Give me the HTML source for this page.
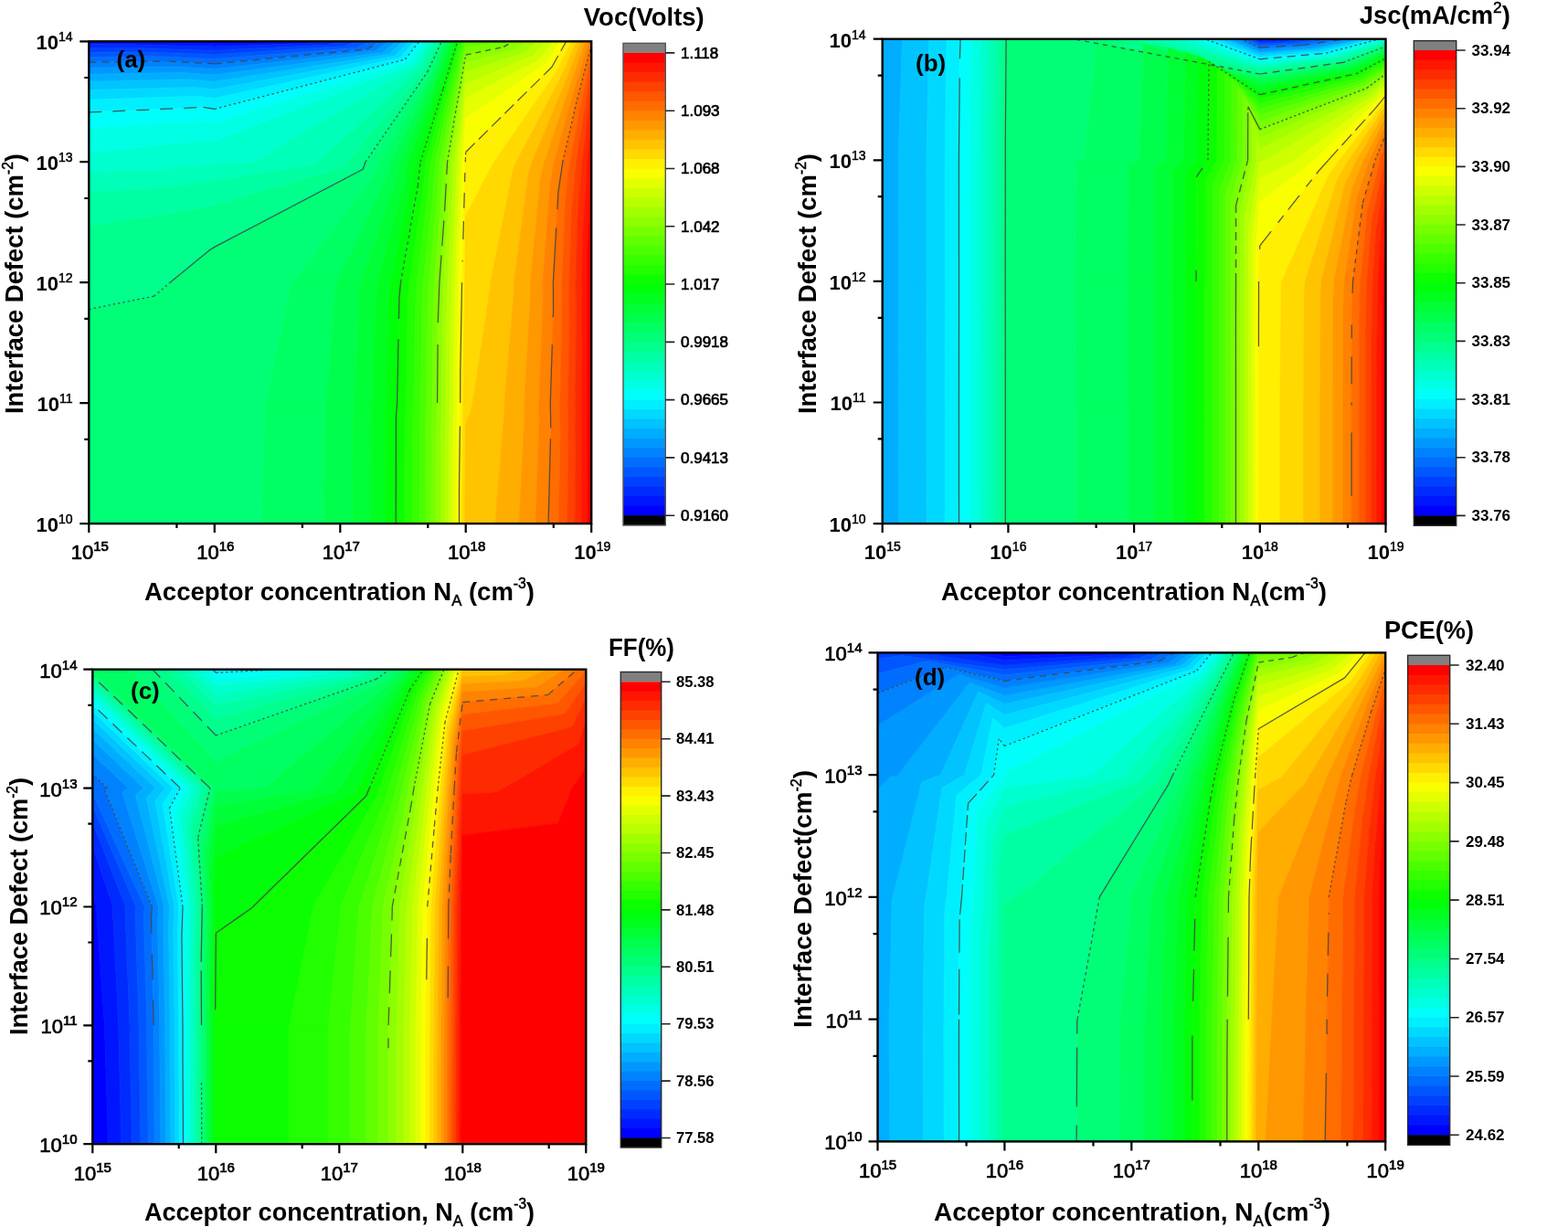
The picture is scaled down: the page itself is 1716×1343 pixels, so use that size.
<!DOCTYPE html>
<html lang="en"><head><meta charset="utf-8"><title>Contour plots</title>
<style>html,body{margin:0;padding:0;background:#fff}body{width:1716px;height:1343px;overflow:hidden}svg{display:block}text{font-family:'Liberation Sans', Arial, Helvetica, sans-serif;fill:#000}.b{font-weight:bold}.s{stroke:#000;stroke-width:0.7px}.n{font-weight:normal;stroke:#000;stroke-width:0.5px}.fb{stroke:#000;stroke-width:1.15px;stroke-linejoin:miter}</style>
</head><body>
<svg width="1716" height="1343" viewBox="0 0 1716 1343">
<rect width="1716" height="1343" fill="#fff"/>
<g>
<g stroke-width="0.7" stroke-linejoin="round">
<path fill="#00ff77" stroke="#00ff77" d="M97.3,573.1L234.8,573.1L97.3,441.1ZM234.8,573.1L234.8,441.1L97.3,441.1ZM234.8,573.1L286.3,573.1L290,441.9L234.8,441.1ZM290.7,441.1L234.8,441.1L290,441.9ZM97.3,441.1L234.8,441.1L168.5,324.2L97.3,338.5ZM234.8,441.1L234.8,309.2L186.1,309.2L168.5,324.2ZM234.8,441.1L290.7,441.1L319.1,310.8L234.8,309.2ZM320.3,309.2L234.8,309.2L319.1,310.8ZM186.1,309.2L234.8,309.2L229.4,273.8ZM234.8,309.2L234.8,270.4L229.4,273.8ZM234.8,309.2L320.3,309.2L412.3,187.8L397.2,185.2L234.8,270.4ZM415.3,177.2L400,177.2L397.2,185.2L412.3,187.8ZM400,177.2L415.3,177.2L471.1,81.3L467.8,78.7ZM486.6,45.3L483.4,45.3L467.8,78.7L471.1,81.3Z"/>
<path fill="#00ff62" stroke="#00ff62" d="M286.3,573.1L354.6,573.1L355.8,444.7L290,441.9ZM356.8,441.1L290.7,441.1L290,441.9L355.8,444.7ZM290.7,441.1L356.8,441.1L367.2,313.6L319.1,310.8ZM368.7,309.2L320.3,309.2L319.1,310.8L367.2,313.6ZM320.3,309.2L368.7,309.2L424.4,190.7L412.3,187.8ZM427.4,177.2L415.3,177.2L412.3,187.8L424.4,190.7ZM415.3,177.2L427.4,177.2L474.2,84.1L471.1,81.3ZM489.7,45.3L486.6,45.3L471.1,81.3L474.2,84.1Z"/>
<path fill="#00ff4c" stroke="#00ff4c" d="M354.6,573.1L385.7,573.1L386.3,447.6L355.8,444.7ZM387.4,441.1L356.8,441.1L355.8,444.7L386.3,447.6ZM356.8,441.1L387.4,441.1L393.5,316.6L367.2,313.6ZM395,309.2L368.7,309.2L367.2,313.6L393.5,316.6ZM368.7,309.2L395,309.2L434.5,193.6L424.4,190.7ZM437.4,177.2L427.4,177.2L424.4,190.7L434.5,193.6ZM427.4,177.2L437.4,177.2L477.1,87L474.2,84.1ZM492.6,45.3L489.7,45.3L474.2,84.1L477.1,87Z"/>
<path fill="#00ff36" stroke="#00ff36" d="M385.7,573.1L406,573.1L406.4,450.6L386.3,447.6ZM407.5,441.1L387.4,441.1L386.3,447.6L406.4,450.6ZM387.4,441.1L407.5,441.1L411.7,319.7L393.5,316.6ZM413.3,309.2L395,309.2L393.5,316.6L411.7,319.7ZM395,309.2L413.3,309.2L443.1,196.8L434.5,193.6ZM446,177.2L437.4,177.2L434.5,193.6L443.1,196.8ZM437.4,177.2L446,177.2L479.9,90.1L477.1,87ZM495.5,45.3L492.6,45.3L477.1,87L479.9,90.1Z"/>
<path fill="#00ff21" stroke="#00ff21" d="M406,573.1L421.1,573.1L421.4,453.8L406.4,450.6ZM422.6,441.1L407.5,441.1L406.4,450.6L421.4,453.8ZM407.5,441.1L422.6,441.1L425.6,322.9L411.7,319.7ZM427.2,309.2L413.3,309.2L411.7,319.7L425.6,322.9ZM413.3,309.2L427.2,309.2L450.6,200.1L443.1,196.8ZM453.6,177.2L446,177.2L443.1,196.8L450.6,200.1ZM446,177.2L453.6,177.2L482.6,93.4L479.9,90.1ZM498.1,45.3L495.5,45.3L479.9,90.1L482.6,93.4Z"/>
<path fill="#00ff0b" stroke="#00ff0b" d="M421.1,573.1L433.2,573.1L433.4,457.2L421.4,453.8ZM434.6,441.1L422.6,441.1L421.4,453.8L433.4,457.2ZM422.6,441.1L434.6,441.1L436.9,326.4L425.6,322.9ZM438.5,309.2L427.2,309.2L425.6,322.9L436.9,326.4ZM427.2,309.2L438.5,309.2L457.2,203.6L450.6,200.1ZM460.2,177.2L453.6,177.2L450.6,200.1L457.2,203.6ZM453.6,177.2L460.2,177.2L485.1,96.8L482.6,93.4ZM500.7,45.3L498.1,45.3L482.6,93.4L485.1,96.8Z"/>
<path fill="#0bff00" stroke="#0bff00" d="M433.2,573.1L443.2,573.1L443.4,460.8L433.4,457.2ZM444.6,441.1L434.6,441.1L433.4,457.2L443.4,460.8ZM434.6,441.1L444.6,441.1L446.4,330.1L436.9,326.4ZM448,309.2L438.5,309.2L436.9,326.4L446.4,330.1ZM438.5,309.2L448,309.2L463.2,207.3L457.2,203.6ZM466.3,177.2L460.2,177.2L457.2,203.6L463.2,207.3ZM460.2,177.2L466.3,177.2L487.6,100.5L485.1,96.8ZM503.1,45.3L500.7,45.3L485.1,96.8L487.6,100.5Z"/>
<path fill="#21ff00" stroke="#21ff00" d="M443.2,573.1L451.8,573.1L451.9,464.6L443.4,460.8ZM453.1,441.1L444.6,441.1L443.4,460.8L451.9,464.6ZM444.6,441.1L453.1,441.1L454.6,334.1L446.4,330.1ZM456.2,309.2L448,309.2L446.4,330.1L454.6,334.1ZM448,309.2L456.2,309.2L468.7,211.3L463.2,207.3ZM471.7,177.2L466.3,177.2L463.2,207.3L468.7,211.3ZM466.3,177.2L471.7,177.2L489.9,104.4L487.6,100.5ZM505.5,45.3L503.1,45.3L487.6,100.5L489.9,104.4Z"/>
<path fill="#36ff00" stroke="#36ff00" d="M451.8,573.1L459.3,573.1L459.4,468.8L451.9,464.6ZM460.6,441.1L453.1,441.1L451.9,464.6L459.4,468.8ZM453.1,441.1L460.6,441.1L461.8,338.3L454.6,334.1ZM463.4,309.2L456.2,309.2L454.6,334.1L461.8,338.3ZM456.2,309.2L463.4,309.2L473.7,215.6L468.7,211.3ZM476.7,177.2L471.7,177.2L468.7,211.3L473.7,215.6ZM471.7,177.2L476.7,177.2L492.2,108.6L489.9,104.4ZM507.8,45.3L505.5,45.3L489.9,104.4L492.2,108.6Z"/>
<path fill="#4cff00" stroke="#4cff00" d="M459.3,573.1L466,573.1L466.1,473.2L459.4,468.8ZM467.2,441.1L460.6,441.1L459.4,468.8L466.1,473.2ZM460.6,441.1L467.2,441.1L468.2,342.9L461.8,338.3ZM469.8,309.2L463.4,309.2L461.8,338.3L468.2,342.9ZM463.4,309.2L469.8,309.2L478.3,220.3L473.7,215.6ZM481.3,177.2L476.7,177.2L473.7,215.6L478.3,220.3ZM476.7,177.2L481.3,177.2L494.4,113.1L492.2,108.6ZM509.7,46L509.7,45.3L507.8,45.3L492.2,108.6L494.4,113.1ZM512.8,45.6L509.7,45.3L509.7,46ZM513.9,45.3L509.7,45.3L512.8,45.6Z"/>
<path fill="#62ff00" stroke="#62ff00" d="M466,573.1L471.9,573.1L472,478L466.1,473.2ZM473.2,441.1L467.2,441.1L466.1,473.2L472,478ZM467.2,441.1L473.2,441.1L474,347.9L468.2,342.9ZM475.6,309.2L469.8,309.2L468.2,342.9L474,347.9ZM469.8,309.2L475.6,309.2L482.6,225.3L478.3,220.3ZM485.6,177.2L481.3,177.2L478.3,220.3L482.6,225.3ZM481.3,177.2L485.6,177.2L496.5,118L494.4,113.1ZM509.7,52.6L509.7,46L494.4,113.1L496.5,118ZM535,48.4L512.8,45.6L509.7,46L509.7,52.6ZM542.3,45.3L513.9,45.3L512.8,45.6L535,48.4Z"/>
<path fill="#77ff00" stroke="#77ff00" d="M471.9,573.1L477.4,573.1L477.5,483.3L472,478ZM478.6,441.1L473.2,441.1L472,478L477.5,483.3ZM473.2,441.1L478.6,441.1L479.3,353.3L474,347.9ZM480.9,309.2L475.6,309.2L474,347.9L479.3,353.3ZM475.6,309.2L480.9,309.2L486.6,230.9L482.6,225.3ZM489.6,177.2L485.6,177.2L482.6,225.3L486.6,230.9ZM485.6,177.2L489.6,177.2L498.5,123.4L496.5,118ZM509.7,60.2L509.7,52.6L496.5,118L498.5,123.4ZM551.2,51.4L535,48.4L509.7,52.6L509.7,60.2ZM561.5,45.3L542.3,45.3L535,48.4L551.2,51.4Z"/>
<path fill="#8dff00" stroke="#8dff00" d="M477.4,573.1L482.4,573.1L482.4,489.1L477.5,483.3ZM483.6,441.1L478.6,441.1L477.5,483.3L482.4,489.1ZM478.6,441.1L483.6,441.1L484.1,359.4L479.3,353.3ZM485.8,309.2L480.9,309.2L479.3,353.3L484.1,359.4ZM480.9,309.2L485.8,309.2L490.3,237L486.6,230.9ZM493.3,177.2L489.6,177.2L486.6,230.9L490.3,237ZM489.6,177.2L493.3,177.2L500.5,129.3L498.5,123.4ZM509.7,68.9L509.7,60.2L498.5,123.4L500.5,129.3ZM563.9,54.5L551.2,51.4L509.7,60.2L509.7,68.9ZM576.1,45.3L561.5,45.3L551.2,51.4L563.9,54.5Z"/>
<path fill="#a3ff00" stroke="#a3ff00" d="M482.4,573.1L487,573.1L487,495.5L482.4,489.1ZM488.2,441.1L483.6,441.1L482.4,489.1L487,495.5ZM483.6,441.1L488.2,441.1L488.6,366.1L484.1,359.4ZM490.3,309.2L485.8,309.2L484.1,359.4L488.6,366.1ZM485.8,309.2L490.3,309.2L493.8,243.9L490.3,237ZM496.9,177.2L493.3,177.2L490.3,237L493.8,243.9ZM493.3,177.2L496.9,177.2L502.4,136L500.5,129.3ZM509.7,79.1L509.7,68.9L500.5,129.3L502.4,136ZM574.4,57.7L563.9,54.5L509.7,68.9L509.7,79.1ZM587.7,45.3L576.1,45.3L563.9,54.5L574.4,57.7Z"/>
<path fill="#b8ff00" stroke="#b8ff00" d="M487,573.1L491.3,573.1L491.3,502.7L487,495.5ZM492.5,441.1L488.2,441.1L487,495.5L491.3,502.7ZM488.2,441.1L492.5,441.1L492.8,373.7L488.6,366.1ZM494.4,309.2L490.3,309.2L488.6,366.1L492.8,373.7ZM490.3,309.2L494.4,309.2L497.2,251.8L493.8,243.9ZM500.2,177.2L496.9,177.2L493.8,243.9L497.2,251.8ZM496.9,177.2L500.2,177.2L504.2,143.4L502.4,136ZM509.7,91.6L509.7,79.1L502.4,136L504.2,143.4ZM583.3,61.2L574.4,57.7L509.7,79.1L509.7,91.6ZM597.5,45.3L587.7,45.3L574.4,57.7L583.3,61.2Z"/>
<path fill="#ceff00" stroke="#ceff00" d="M491.3,573.1L495.3,573.1L495.3,511.1L491.3,502.7ZM496.5,441.1L492.5,441.1L491.3,502.7L495.3,511.1ZM492.5,441.1L496.5,441.1L496.7,382.5L492.8,373.7ZM498.3,309.2L494.4,309.2L492.8,373.7L496.7,382.5ZM494.4,309.2L498.3,309.2L500.3,260.8L497.2,251.8ZM503.4,177.2L500.2,177.2L497.2,251.8L500.3,260.8ZM500.2,177.2L503.4,177.2L506,152.1L504.2,143.4ZM509.7,107.5L509.7,91.6L504.2,143.4L506,152.1ZM591,64.9L583.3,61.2L509.7,91.6L509.7,107.5ZM605.8,45.3L597.5,45.3L583.3,61.2L591,64.9Z"/>
<path fill="#e4ff00" stroke="#e4ff00" d="M495.3,573.1L499,573.1L499,520.8L495.3,511.1ZM500.2,441.1L496.5,441.1L495.3,511.1L499,520.8ZM496.5,441.1L500.2,441.1L500.4,393L496.7,382.5ZM502,309.2L498.3,309.2L496.7,382.5L500.4,393ZM498.3,309.2L502,309.2L503.3,271.6L500.3,260.8ZM506.3,177.2L503.4,177.2L500.3,260.8L503.3,271.6ZM503.4,177.2L506.3,177.2L507.7,162.2L506,152.1ZM509.7,129.8L509.7,107.5L506,152.1L507.7,162.2ZM597.9,68.9L591,64.9L509.7,107.5L509.7,129.8ZM613.2,45.3L605.8,45.3L591,64.9L597.9,68.9Z"/>
<path fill="#faff00" stroke="#faff00" d="M499,573.1L502.5,573.1L502.5,532.5L499,520.8ZM503.7,441.1L500.2,441.1L499,520.8L502.5,532.5ZM500.2,441.1L503.7,441.1L503.8,405.7L500.4,393ZM505.5,309.2L502,309.2L500.4,393L503.8,405.7ZM502,309.2L505.5,309.2L506.2,284.9L503.3,271.6ZM509.2,177.2L506.3,177.2L503.3,271.6L506.2,284.9ZM506.3,177.2L509.2,177.2L509.4,174.6L507.7,162.2ZM509.7,166.5L509.7,129.8L507.7,162.2L509.4,174.6ZM604,73.2L597.9,68.9L509.7,129.8L509.7,166.5ZM619.7,45.3L613.2,45.3L597.9,68.9L604,73.2Z"/>
<path fill="#ffef00" stroke="#ffef00" d="M502.5,573.1L505.8,573.1L505.9,547.2L502.5,532.5ZM507,441.1L503.7,441.1L502.5,532.5L505.9,547.2ZM503.7,441.1L507,441.1L507.1,422.2L503.8,405.7ZM508.7,309.2L505.5,309.2L503.8,405.7L507.1,422.2ZM505.5,309.2L508.7,309.2L508.9,302.3L506.2,284.9ZM509.7,236.6L509.7,177.2L509.2,177.2L506.2,284.9L508.9,302.3ZM538.5,180.9L509.7,177.2L509.7,236.6ZM540.9,177.2L509.7,177.2L538.5,180.9ZM509.2,177.2L509.7,177.2L509.4,174.6ZM509.7,177.2L509.7,166.5L509.4,174.6ZM509.7,177.2L540.9,177.2L609.6,77.8L604,73.2L509.7,166.5ZM625.6,45.3L619.7,45.3L604,73.2L609.6,77.8Z"/>
<path fill="#ffd900" stroke="#ffd900" d="M505.8,573.1L509,573.1L509,567.1L505.9,547.2ZM509.7,465.5L509.7,441.1L507,441.1L505.9,547.2L509,567.1ZM517.3,441.9L509.7,441.1L509.7,465.5ZM517.3,441.1L509.7,441.1L517.3,441.9ZM507,441.1L509.7,441.1L507.1,422.2ZM509.7,441.1L509.7,309.2L508.7,309.2L507.1,422.2ZM509.7,441.1L517.3,441.1L537,312.6L509.7,309.2ZM536.9,309.2L509.7,309.2L537,312.6ZM508.7,309.2L509.7,309.2L508.9,302.3ZM509.7,309.2L509.7,236.6L508.9,302.3ZM509.7,309.2L536.9,309.2L561.6,185.8L538.5,180.9L509.7,236.6ZM565.1,177.2L540.9,177.2L538.5,180.9L561.6,185.8ZM540.9,177.2L565.1,177.2L614.7,82.8L609.6,77.8ZM631,45.3L625.6,45.3L609.6,77.8L614.7,82.8Z"/>
<path fill="#ffc300" stroke="#ffc300" d="M509,573.1L509.7,573.1L509,567.1ZM509.7,573.1L509.7,465.5L509,567.1ZM509.7,573.1L542,573.1L552.3,447.5L517.3,441.9L509.7,465.5ZM552,441.1L517.3,441.1L517.3,441.9L552.3,447.5ZM517.3,441.1L552,441.1L562.7,318L537,312.6ZM562.5,309.2L536.9,309.2L537,312.6L562.7,318ZM536.9,309.2L562.5,309.2L578.2,191.1L561.6,185.8ZM582.3,177.2L565.1,177.2L561.6,185.8L578.2,191.1ZM565.1,177.2L582.3,177.2L619.4,88.3L614.7,82.8ZM635.9,45.3L631,45.3L614.7,82.8L619.4,88.3Z"/>
<path fill="#ffae00" stroke="#ffae00" d="M542,573.1L568.1,573.1L574.2,453.6L552.3,447.5ZM573.8,441.1L552,441.1L552.3,447.5L574.2,453.6ZM552,441.1L573.8,441.1L580.6,324L562.7,318ZM580.4,309.2L562.5,309.2L562.7,318L580.6,324ZM562.5,309.2L580.4,309.2L591.2,197L578.2,191.1ZM595.7,177.2L582.3,177.2L578.2,191.1L591.2,197ZM582.3,177.2L595.7,177.2L623.7,94.4L619.4,88.3ZM640.5,45.3L635.9,45.3L619.4,88.3L623.7,94.4Z"/>
<path fill="#ff9800" stroke="#ff9800" d="M568.1,573.1L586.2,573.1L590.2,460.4L574.2,453.6ZM589.8,441.1L573.8,441.1L574.2,453.6L590.2,460.4ZM573.8,441.1L589.8,441.1L594.4,330.7L580.6,324ZM594.2,309.2L580.4,309.2L580.6,324L594.4,330.7ZM580.4,309.2L594.2,309.2L601.9,203.6L591.2,197ZM606.6,177.2L595.7,177.2L591.2,197L601.9,203.6ZM595.7,177.2L606.6,177.2L627.8,101.1L623.7,94.4ZM644.7,45.3L640.5,45.3L623.7,94.4L627.8,101.1Z"/>
<path fill="#ff8200" stroke="#ff8200" d="M586.2,573.1L600.1,573.1L602.8,468.2L590.2,460.4ZM602.3,441.1L589.8,441.1L590.2,460.4L602.8,468.2ZM589.8,441.1L602.3,441.1L605.6,338.3L594.4,330.7ZM605.4,309.2L594.2,309.2L594.4,330.7L605.6,338.3ZM594.2,309.2L605.4,309.2L610.9,211L601.9,203.6ZM615.8,177.2L606.6,177.2L601.9,203.6L610.9,211ZM606.6,177.2L615.8,177.2L631.6,108.9L627.8,101.1ZM647.2,49.1L647.2,45.3L644.7,45.3L627.8,101.1L631.6,108.9Z"/>
<path fill="#ff6d00" stroke="#ff6d00" d="M600.1,573.1L611.4,573.1L613.2,477.1L602.8,468.2ZM612.7,441.1L602.3,441.1L602.8,468.2L613.2,477.1ZM602.3,441.1L612.7,441.1L615,347L605.6,338.3ZM614.8,309.2L605.4,309.2L605.6,338.3L615,347ZM605.4,309.2L614.8,309.2L618.8,219.5L610.9,211ZM623.8,177.2L615.8,177.2L610.9,211L618.8,219.5ZM615.8,177.2L623.8,177.2L635.2,117.8L631.6,108.9ZM647.2,60.8L647.2,49.1L631.6,108.9L635.2,117.8Z"/>
<path fill="#ff5700" stroke="#ff5700" d="M611.4,573.1L620.8,573.1L622.1,487.8L613.2,477.1ZM621.5,441.1L612.7,441.1L613.2,477.1L622.1,487.8ZM612.7,441.1L621.5,441.1L623.1,357.3L615,347ZM622.9,309.2L614.8,309.2L615,347L623.1,357.3ZM614.8,309.2L622.9,309.2L625.7,229.4L618.8,219.5ZM630.8,177.2L623.8,177.2L618.8,219.5L625.7,229.4ZM623.8,177.2L630.8,177.2L638.5,128.3L635.2,117.8ZM647.2,75.5L647.2,60.8L635.2,117.8L638.5,128.3Z"/>
<path fill="#ff4100" stroke="#ff4100" d="M620.8,573.1L629,573.1L629.8,500.9L622.1,487.8ZM629.2,441.1L621.5,441.1L622.1,487.8L629.8,500.9ZM621.5,441.1L629.2,441.1L630.3,369.9L623.1,357.3ZM630,309.2L622.9,309.2L623.1,357.3L630.3,369.9ZM622.9,309.2L630,309.2L631.9,241.5L625.7,229.4ZM637.1,177.2L630.8,177.2L625.7,229.4L631.9,241.5ZM630.8,177.2L637.1,177.2L641.7,141.3L638.5,128.3ZM647.2,95.3L647.2,75.5L638.5,128.3L641.7,141.3Z"/>
<path fill="#ff2b00" stroke="#ff2b00" d="M629,573.1L636.2,573.1L636.6,517.9L629.8,500.9ZM636.1,441.1L629.2,441.1L629.8,500.9L636.6,517.9ZM629.2,441.1L636.1,441.1L636.7,386L630.3,369.9ZM636.4,309.2L630,309.2L630.3,369.9L636.7,386ZM630,309.2L636.4,309.2L637.6,256.9L631.9,241.5ZM642.8,177.2L637.1,177.2L631.9,241.5L637.6,256.9ZM637.1,177.2L642.8,177.2L644.8,158L641.7,141.3ZM647.2,125.9L647.2,95.3L641.7,141.3L644.8,158Z"/>
<path fill="#ff1600" stroke="#ff1600" d="M636.2,573.1L642.6,573.1L642.8,542.2L636.6,517.9ZM642.2,441.1L636.1,441.1L636.6,517.9L642.8,542.2ZM636.1,441.1L642.2,441.1L642.4,408.6L636.7,386ZM642.2,309.2L636.4,309.2L636.7,386L642.4,408.6ZM636.4,309.2L642.2,309.2L642.7,277.9L637.6,256.9ZM647.2,185.2L647.2,177.2L642.8,177.2L637.6,256.9L642.7,277.9ZM642.8,177.2L647.2,177.2L644.8,158ZM647.2,177.2L647.2,125.9L644.8,158Z"/>
<path fill="#ff0000" stroke="#ff0000" d="M642.6,573.1L647.2,573.1L642.8,542.2ZM647.2,573.1L647.2,441.1L642.2,441.1L642.8,542.2ZM642.2,441.1L647.2,441.1L642.4,408.6ZM647.2,441.1L647.2,309.2L642.2,309.2L642.4,408.6ZM642.2,309.2L647.2,309.2L642.7,277.9ZM647.2,309.2L647.2,185.2L642.7,277.9Z"/>
<path fill="#00ff8d" stroke="#00ff8d" d="M168.5,324.2L97.3,309.2L97.3,338.5ZM186.1,309.2L97.3,309.2L168.5,324.2ZM97.3,309.2L186.1,309.2L229.4,273.8L213,229L97.3,246.8ZM234.8,270.4L234.8,223.6L213,229L229.4,273.8ZM397.2,185.2L376.8,182.6L234.8,223.6L234.8,270.4ZM400,177.2L379.6,177.2L376.8,182.6L397.2,185.2ZM379.6,177.2L400,177.2L467.8,78.7L464.4,76.2ZM483.4,45.3L479.9,45.3L464.4,76.2L467.8,78.7Z"/>
<path fill="#00ffce" stroke="#00ffce" d="M153.4,187L97.3,177.2L97.3,188.9ZM234.8,180.6L234.8,177.2L97.3,177.2L153.4,187ZM276.4,177.8L234.8,177.2L234.8,180.6ZM278,177.2L234.8,177.2L276.4,177.8ZM97.3,177.2L234.8,177.2L231.6,153.5L97.3,166.8ZM234.8,177.2L234.8,154.6L231.6,153.5ZM234.8,177.2L278,177.2L456.9,71.4L452.7,69.2L234.8,154.6ZM472.3,45.3L468.2,45.3L452.7,69.2L456.9,71.4Z"/>
<path fill="#00ffb8" stroke="#00ffb8" d="M190.4,204.2L153.4,187L97.3,188.9L97.3,210.8ZM234.8,198.2L234.8,180.6L153.4,187L190.4,204.2ZM345.6,180.1L276.4,177.8L234.8,180.6L234.8,198.2ZM348.2,177.2L278,177.2L276.4,177.8L345.6,180.1ZM278,177.2L348.2,177.2L460.8,73.7L456.9,71.4ZM476.2,45.3L472.3,45.3L456.9,71.4L460.8,73.7Z"/>
<path fill="#00ffa3" stroke="#00ffa3" d="M213,229L190.4,204.2L97.3,210.8L97.3,246.8ZM234.8,223.6L234.8,198.2L190.4,204.2L213,229ZM376.8,182.6L345.6,180.1L234.8,198.2L234.8,223.6ZM379.6,177.2L348.2,177.2L345.6,180.1L376.8,182.6ZM348.2,177.2L379.6,177.2L464.4,76.2L460.8,73.7ZM479.9,45.3L476.2,45.3L460.8,73.7L464.4,76.2Z"/>
<path fill="#0016ff" stroke="#0016ff" d="M121.5,48.2L97.3,45.3L97.3,48.3ZM234.8,51.1L234.8,47.2L178.3,45.3L97.3,45.3L121.5,48.2ZM333.7,47.6L288.7,46.1L234.8,47.2L234.8,51.1ZM346.8,45.3L298.6,45.3L288.7,46.1L333.7,47.6Z"/>
<path fill="#002bff" stroke="#002bff" d="M143.4,52.4L121.5,48.2L97.3,48.3L97.3,52.7ZM234.8,55.2L234.8,51.1L121.5,48.2L143.4,52.4ZM359,49.1L333.7,47.6L234.8,51.1L234.8,55.2ZM373,45.3L346.8,45.3L333.7,47.6L359,49.1Z"/>
<path fill="#0041ff" stroke="#0041ff" d="M159.4,56.9L143.4,52.4L97.3,52.7L97.3,57.4ZM234.8,59.7L234.8,55.2L143.4,52.4L159.4,56.9ZM376.8,50.6L359,49.1L234.8,55.2L234.8,59.7ZM391.2,45.3L373,45.3L359,49.1L376.8,50.6Z"/>
<path fill="#0057ff" stroke="#0057ff" d="M172,61.8L159.4,56.9L97.3,57.4L97.3,62.5ZM234.8,64.5L234.8,59.7L159.4,56.9L172,61.8ZM390.4,52.2L376.8,50.6L234.8,59.7L234.8,64.5ZM405.2,45.3L391.2,45.3L376.8,50.6L390.4,52.2Z"/>
<path fill="#006dff" stroke="#006dff" d="M182.4,67.1L172,61.8L97.3,62.5L97.3,68.1ZM234.8,69.8L234.8,64.5L172,61.8L182.4,67.1ZM401.5,53.9L390.4,52.2L234.8,64.5L234.8,69.8ZM416.5,45.3L405.2,45.3L390.4,52.2L401.5,53.9Z"/>
<path fill="#0082ff" stroke="#0082ff" d="M191.3,73L182.4,67.1L97.3,68.1L97.3,74.3ZM234.8,75.6L234.8,69.8L182.4,67.1L191.3,73ZM410.9,55.6L401.5,53.9L234.8,69.8L234.8,75.6ZM425.9,45.3L416.5,45.3L401.5,53.9L410.9,55.6Z"/>
<path fill="#0098ff" stroke="#0098ff" d="M199,79.5L191.3,73L97.3,74.3L97.3,81.2ZM234.8,82.1L234.8,75.6L191.3,73L199,79.5ZM419,57.4L410.9,55.6L234.8,75.6L234.8,82.1ZM434.1,45.3L425.9,45.3L410.9,55.6L419,57.4Z"/>
<path fill="#00aeff" stroke="#00aeff" d="M205.8,86.9L199,79.5L97.3,81.2L97.3,89.2ZM234.8,89.4L234.8,82.1L199,79.5L205.8,86.9ZM426.1,59.2L419,57.4L234.8,82.1L234.8,89.4ZM441.3,45.3L434.1,45.3L419,57.4L426.1,59.2Z"/>
<path fill="#00c3ff" stroke="#00c3ff" d="M212,95.4L205.8,86.9L97.3,89.2L97.3,98.4ZM234.8,97.8L234.8,89.4L205.8,86.9L212,95.4ZM432.5,61L426.1,59.2L234.8,89.4L234.8,97.8ZM447.7,45.3L441.3,45.3L426.1,59.2L432.5,61Z"/>
<path fill="#00d9ff" stroke="#00d9ff" d="M217.5,105.3L212,95.4L97.3,98.4L97.3,109.3ZM234.8,107.6L234.8,97.8L212,95.4L217.5,105.3ZM438.2,63L432.5,61L234.8,97.8L234.8,107.6ZM453.5,45.3L447.7,45.3L432.5,61L438.2,63Z"/>
<path fill="#00efff" stroke="#00efff" d="M222.6,117.4L217.5,105.3L97.3,109.3L97.3,122.9ZM234.8,119.4L234.8,107.6L217.5,105.3L222.6,117.4ZM443.5,65L438.2,63L234.8,107.6L234.8,119.4ZM458.8,45.3L453.5,45.3L438.2,63L443.5,65Z"/>
<path fill="#00fffa" stroke="#00fffa" d="M227.3,132.6L222.6,117.4L97.3,122.9L97.3,140.8ZM234.8,134.4L234.8,119.4L222.6,117.4L227.3,132.6ZM448.3,67L443.5,65L234.8,119.4L234.8,134.4ZM463.7,45.3L458.8,45.3L443.5,65L448.3,67Z"/>
<path fill="#00ffe4" stroke="#00ffe4" d="M231.6,153.5L227.3,132.6L97.3,140.8L97.3,166.8ZM234.8,154.6L234.8,134.4L227.3,132.6L231.6,153.5ZM452.7,69.2L448.3,67L234.8,134.4L234.8,154.6ZM468.2,45.3L463.7,45.3L448.3,67L452.7,69.2Z"/>
<path fill="#0000ff" stroke="#0000ff" d="M234.8,47.2L234.8,45.3L178.3,45.3ZM288.7,46.1L234.8,45.3L234.8,47.2ZM298.6,45.3L234.8,45.3L288.7,46.1Z"/>
</g>
<g stroke="#454545" stroke-width="1.25" fill="none" stroke-opacity="0.9">
<path d="M97.3,68.1L182.4,67.1M234.8,69.8L182.4,67.1M234.8,69.8L401.5,53.9M401.5,53.9L416.5,45.3" stroke-dasharray="8 6"/>
<path d="M97.3,122.9L222.6,117.4M234.8,119.4L222.6,117.4" stroke-dasharray="14 12"/>
<path d="M234.8,119.4L443.5,65M443.5,65L458.8,45.3M97.3,338.5L168.5,324.2M168.5,324.2L186.1,309.2M400,177.2L467.8,78.7M467.8,78.7L483.4,45.3M460.2,177.2L485.1,96.8M485.1,96.8L500.7,45.3M489.6,177.2L498.5,123.4M498.5,123.4L509.7,60.2M509.2,177.2L509.4,174.6M509.4,174.6L509.7,166.5M615.8,177.2L631.6,108.9M631.6,108.9L647.2,49.1" stroke-dasharray="2.4 3"/>
<path d="M186.1,309.2L229.4,273.8M229.4,273.8L234.8,270.4M234.8,270.4L397.2,185.2M397.2,185.2L400,177.2M433.2,573.1L433.4,457.2M433.4,457.2L434.6,441.1M503.7,441.1L503.8,405.7M503.8,405.7L505.5,309.2"/>
<path d="M434.6,441.1L436.9,326.4M436.9,326.4L438.5,309.2" stroke-dasharray="70 22"/>
<path d="M438.5,309.2L457.2,203.6M457.2,203.6L460.2,177.2" stroke-dasharray="3.5 3.5"/>
<path d="M478.6,441.1L479.3,353.3M479.3,353.3L480.9,309.2" stroke-dasharray="64 54"/>
<path d="M480.9,309.2L486.6,230.9M486.6,230.9L489.6,177.2" stroke-dasharray="30 10 28 10 8 6"/>
<path d="M509.7,60.2L551.2,51.4M551.2,51.4L561.5,45.3" stroke-dasharray="6 5"/>
<path d="M502.5,573.1L502.5,532.5M502.5,532.5L503.7,441.1" stroke-dasharray="66 66"/>
<path d="M505.5,309.2L506.2,284.9M506.2,284.9L509.2,177.2" stroke-dasharray="0 23 20 14 17 12 10 8"/>
<path d="M509.7,166.5L604,73.2M604,73.2L619.7,45.3" stroke-dasharray="14 6"/>
<path d="M600.1,573.1L602.8,468.2M602.8,468.2L602.3,441.1" stroke-dasharray="93 77"/>
<path d="M602.3,441.1L605.6,338.3M605.6,338.3L605.4,309.2" stroke-dasharray="64 30"/>
<path d="M605.4,309.2L610.9,211M610.9,211L615.8,177.2" stroke-dasharray="60 20"/>
</g>
<rect x="97.3" y="45.3" width="549.9" height="527.8" fill="none" stroke="#000" stroke-width="2.4"/>
<path d="M97.3,573.1v10M97.3,573.1h-10M193.4,573.1v5M97.3,480.9h-5M234.8,573.1v10M97.3,441.1h-10M330.9,573.1v5M97.3,348.9h-5M372.3,573.1v10M97.3,309.2h-10M468.3,573.1v5M97.3,217h-5M509.7,573.1v10M97.3,177.2h-10M605.8,573.1v5M97.3,85h-5M647.2,573.1v10M97.3,45.3h-10" stroke="#000" stroke-width="2.2" fill="none"/>
<text x="98.3" y="612.2" font-size="22" text-anchor="middle" class="s">10<tspan dy="-9" font-size="15">15</tspan></text>
<text x="79.6" y="582" font-size="22" text-anchor="end" class="b">10<tspan dy="-9" font-size="14" class="n">10</tspan></text>
<text x="235.8" y="612.2" font-size="22" text-anchor="middle" class="s">10<tspan dy="-9" font-size="15">16</tspan></text>
<text x="79.6" y="450" font-size="22" text-anchor="end" class="b">10<tspan dy="-9" font-size="14" class="n">11</tspan></text>
<text x="373.3" y="612.2" font-size="22" text-anchor="middle" class="s">10<tspan dy="-9" font-size="15">17</tspan></text>
<text x="79.6" y="318.1" font-size="22" text-anchor="end" class="b">10<tspan dy="-9" font-size="14" class="n">12</tspan></text>
<text x="510.7" y="612.2" font-size="22" text-anchor="middle" class="s">10<tspan dy="-9" font-size="15">18</tspan></text>
<text x="79.6" y="186.2" font-size="22" text-anchor="end" class="b">10<tspan dy="-9" font-size="14" class="n">13</tspan></text>
<text x="648.2" y="612.2" font-size="22" text-anchor="middle" class="b">10<tspan dy="-9" font-size="14" class="n">19</tspan></text>
<text x="79.6" y="54.2" font-size="22" text-anchor="end" class="b">10<tspan dy="-9" font-size="14" class="n">14</tspan></text>
<text x="158" y="657" font-size="28" class="b" textLength="427" lengthAdjust="spacingAndGlyphs">Acceptor concentration N<tspan dy="6" font-size="17" class="n">A</tspan><tspan dy="-6"> (cm</tspan><tspan dy="-13" font-size="16" class="n">-3</tspan><tspan dy="13">)</tspan></text>
<text transform="translate(24.5,453) rotate(-90)" font-size="28" class="b" textLength="285" lengthAdjust="spacingAndGlyphs">Interface Defect (cm<tspan dy="-11" font-size="16" class="n">-2</tspan><tspan dy="11">)</tspan></text>
<text x="127.5" y="74.3" font-size="26" class="b">(a)</text>
<rect x="682" y="47.3" width="46.3" height="10.6" fill="#808080"/>
<rect x="682" y="57.90" width="46.3" height="506.30" fill="#ff0000"/>
<rect x="682" y="68.45" width="46.3" height="495.75" fill="#ff1600"/>
<rect x="682" y="79.00" width="46.3" height="485.20" fill="#ff2b00"/>
<rect x="682" y="89.54" width="46.3" height="474.66" fill="#ff4100"/>
<rect x="682" y="100.09" width="46.3" height="464.11" fill="#ff5700"/>
<rect x="682" y="110.64" width="46.3" height="453.56" fill="#ff6d00"/>
<rect x="682" y="121.19" width="46.3" height="443.01" fill="#ff8200"/>
<rect x="682" y="131.74" width="46.3" height="432.46" fill="#ff9800"/>
<rect x="682" y="142.28" width="46.3" height="421.92" fill="#ffae00"/>
<rect x="682" y="152.83" width="46.3" height="411.37" fill="#ffc300"/>
<rect x="682" y="163.38" width="46.3" height="400.82" fill="#ffd900"/>
<rect x="682" y="173.93" width="46.3" height="390.27" fill="#ffef00"/>
<rect x="682" y="184.48" width="46.3" height="379.73" fill="#faff00"/>
<rect x="682" y="195.02" width="46.3" height="369.18" fill="#e4ff00"/>
<rect x="682" y="205.57" width="46.3" height="358.63" fill="#ceff00"/>
<rect x="682" y="216.12" width="46.3" height="348.08" fill="#b8ff00"/>
<rect x="682" y="226.67" width="46.3" height="337.53" fill="#a3ff00"/>
<rect x="682" y="237.21" width="46.3" height="326.99" fill="#8dff00"/>
<rect x="682" y="247.76" width="46.3" height="316.44" fill="#77ff00"/>
<rect x="682" y="258.31" width="46.3" height="305.89" fill="#62ff00"/>
<rect x="682" y="268.86" width="46.3" height="295.34" fill="#4cff00"/>
<rect x="682" y="279.41" width="46.3" height="284.79" fill="#36ff00"/>
<rect x="682" y="289.95" width="46.3" height="274.25" fill="#21ff00"/>
<rect x="682" y="300.50" width="46.3" height="263.70" fill="#0bff00"/>
<rect x="682" y="311.05" width="46.3" height="253.15" fill="#00ff0b"/>
<rect x="682" y="321.60" width="46.3" height="242.60" fill="#00ff21"/>
<rect x="682" y="332.15" width="46.3" height="232.05" fill="#00ff36"/>
<rect x="682" y="342.69" width="46.3" height="221.51" fill="#00ff4c"/>
<rect x="682" y="353.24" width="46.3" height="210.96" fill="#00ff62"/>
<rect x="682" y="363.79" width="46.3" height="200.41" fill="#00ff77"/>
<rect x="682" y="374.34" width="46.3" height="189.86" fill="#00ff8d"/>
<rect x="682" y="384.89" width="46.3" height="179.31" fill="#00ffa3"/>
<rect x="682" y="395.43" width="46.3" height="168.77" fill="#00ffb8"/>
<rect x="682" y="405.98" width="46.3" height="158.22" fill="#00ffce"/>
<rect x="682" y="416.53" width="46.3" height="147.67" fill="#00ffe4"/>
<rect x="682" y="427.08" width="46.3" height="137.12" fill="#00fffa"/>
<rect x="682" y="437.62" width="46.3" height="126.58" fill="#00efff"/>
<rect x="682" y="448.17" width="46.3" height="116.03" fill="#00d9ff"/>
<rect x="682" y="458.72" width="46.3" height="105.48" fill="#00c3ff"/>
<rect x="682" y="469.27" width="46.3" height="94.93" fill="#00aeff"/>
<rect x="682" y="479.82" width="46.3" height="84.38" fill="#0098ff"/>
<rect x="682" y="490.36" width="46.3" height="73.84" fill="#0082ff"/>
<rect x="682" y="500.91" width="46.3" height="63.29" fill="#006dff"/>
<rect x="682" y="511.46" width="46.3" height="52.74" fill="#0057ff"/>
<rect x="682" y="522.01" width="46.3" height="42.19" fill="#0041ff"/>
<rect x="682" y="532.56" width="46.3" height="31.64" fill="#002bff"/>
<rect x="682" y="543.10" width="46.3" height="21.10" fill="#0016ff"/>
<rect x="682" y="553.65" width="46.3" height="10.55" fill="#0000ff"/>
<rect x="682" y="564.2" width="46.3" height="10.8" fill="#000000"/>
<rect x="682" y="47.3" width="46.3" height="527.7" fill="none" stroke="#555" stroke-width="1.4"/>
<path d="M728.3,564.20h10M728.3,500.91h10M728.3,437.62h10M728.3,374.34h10M728.3,311.05h10M728.3,247.76h10M728.3,184.48h10M728.3,121.19h10M728.3,57.90h10" stroke="#222" stroke-width="1.6" fill="none"/>
<text x="745" y="569.9" font-size="17" class="s">0.9160</text>
<text x="745" y="506.6" font-size="17" class="s">0.9413</text>
<text x="745" y="443.3" font-size="17" class="s">0.9665</text>
<text x="745" y="380.0" font-size="17" class="s">0.9918</text>
<text x="745" y="316.8" font-size="17" class="s">1.017</text>
<text x="745" y="253.5" font-size="17" class="s">1.042</text>
<text x="745" y="190.2" font-size="17" class="s">1.068</text>
<text x="745" y="126.9" font-size="17" class="s">1.093</text>
<text x="745" y="63.6" font-size="17" class="s">1.118</text>
<text x="638.8" y="28" font-size="27" class="b" textLength="132" lengthAdjust="spacingAndGlyphs">Voc(Volts)</text>
</g>
<g>
<g stroke-width="0.7" stroke-linejoin="round">
<path fill="#00aeff" stroke="#00aeff" d="M965.7,573.1L983.4,573.1L983,442.5L965.7,440.5ZM983,440.5L965.7,440.5L983,442.5ZM965.7,440.5L983,440.5L983.4,309.9L965.7,307.9ZM983.4,307.9L965.7,307.9L983.4,309.9ZM965.7,307.9L983.4,307.9L983,177.3L965.7,175.3ZM983,175.3L965.7,175.3L983,177.3ZM965.7,175.3L983,175.3L987.5,45.3L965.7,42.7ZM987.7,42.7L965.7,42.7L987.5,45.3ZM1378.8,58.1L1378.8,56L1347.1,42.7L1341.2,42.7ZM1438.9,53.7L1434.3,52.2L1378.8,56L1378.8,58.1ZM1494,42.7L1487.6,42.7L1434.3,52.2L1438.9,53.7Z"/>
<path fill="#00c3ff" stroke="#00c3ff" d="M983.4,573.1L1014.2,573.1L1014,448.1L983,442.5ZM1014,440.5L983,440.5L983,442.5L1014,448.1ZM983,440.5L1014,440.5L1014.2,315.6L983.4,309.9ZM1014.1,307.9L983.4,307.9L983.4,309.9L1014.2,315.6ZM983.4,307.9L1014.1,307.9L1013.9,182.9L983,177.3ZM1014,175.3L983,175.3L983,177.3L1013.9,182.9ZM983,175.3L1014,175.3L1016.4,50.9L987.5,45.3ZM1016.9,42.7L987.7,42.7L987.5,45.3L1016.4,50.9ZM1378.8,60.2L1378.8,58.1L1341.2,42.7L1334.6,42.7ZM1443.3,55.1L1438.9,53.7L1378.8,58.1L1378.8,60.2ZM1499.8,42.7L1494,42.7L1438.9,53.7L1443.3,55.1Z"/>
<path fill="#00d9ff" stroke="#00d9ff" d="M1014.2,573.1L1034.4,573.1L1034.3,454.4L1014,448.1ZM1034.3,440.5L1014,440.5L1014,448.1L1034.3,454.4ZM1014,440.5L1034.3,440.5L1034.4,321.9L1014.2,315.6ZM1034.4,307.9L1014.1,307.9L1014.2,315.6L1034.4,321.9ZM1014.1,307.9L1034.4,307.9L1034.2,189.2L1013.9,182.9ZM1034.3,175.3L1014,175.3L1013.9,182.9L1034.2,189.2ZM1014,175.3L1034.3,175.3L1035.8,57.2L1016.4,50.9ZM1036.4,42.7L1016.9,42.7L1016.4,50.9L1035.8,57.2ZM1378.8,62.4L1378.8,60.2L1334.6,42.7L1327.2,42.7ZM1447.4,56.6L1443.3,55.1L1378.8,60.2L1378.8,62.4ZM1505,42.7L1499.8,42.7L1443.3,55.1L1447.4,56.6Z"/>
<path fill="#00efff" stroke="#00efff" d="M1034.4,573.1L1049.5,573.1L1049.4,461.5L1034.3,454.4ZM1049.4,440.5L1034.3,440.5L1034.3,454.4L1049.4,461.5ZM1034.3,440.5L1049.4,440.5L1049.5,328.9L1034.4,321.9ZM1049.5,307.9L1034.4,307.9L1034.4,321.9L1049.5,328.9ZM1034.4,307.9L1049.5,307.9L1049.4,196.3L1034.2,189.2ZM1049.4,175.3L1034.3,175.3L1034.2,189.2L1049.4,196.3ZM1034.3,175.3L1049.4,175.3L1050.4,64.3L1035.8,57.2ZM1051.1,42.7L1036.4,42.7L1035.8,57.2L1050.4,64.3ZM1378.8,64.8L1378.8,62.4L1327.2,42.7L1318.7,42.7ZM1451.2,58.2L1447.4,56.6L1378.8,62.4L1378.8,64.8ZM1509.9,42.7L1505,42.7L1447.4,56.6L1451.2,58.2Z"/>
<path fill="#00fffa" stroke="#00fffa" d="M1049.5,573.1L1061.5,573.1L1061.5,469.5L1049.4,461.5ZM1061.5,440.5L1049.4,440.5L1049.4,461.5L1061.5,469.5ZM1049.4,440.5L1061.5,440.5L1061.5,337L1049.5,328.9ZM1061.5,307.9L1049.5,307.9L1049.5,328.9L1061.5,337ZM1049.5,307.9L1061.5,307.9L1061.4,204.3L1049.4,196.3ZM1061.5,175.3L1049.4,175.3L1049.4,196.3L1061.4,204.3ZM1049.4,175.3L1061.5,175.3L1062.2,72.3L1050.4,64.3ZM1062.9,42.7L1051.1,42.7L1050.4,64.3L1062.2,72.3ZM1378.8,67.2L1378.8,64.8L1318.7,42.7L1308.9,42.7ZM1454.7,59.7L1451.2,58.2L1378.8,64.8L1378.8,67.2ZM1514.4,42.7L1509.9,42.7L1451.2,58.2L1454.7,59.7Z"/>
<path fill="#00ffe4" stroke="#00ffe4" d="M1061.5,573.1L1071.6,573.1L1071.5,478.9L1061.5,469.5ZM1071.5,440.5L1061.5,440.5L1061.5,469.5L1071.5,478.9ZM1061.5,440.5L1071.5,440.5L1071.6,346.4L1061.5,337ZM1071.5,307.9L1061.5,307.9L1061.5,337L1071.6,346.4ZM1061.5,307.9L1071.5,307.9L1071.5,213.7L1061.4,204.3ZM1071.5,175.3L1061.5,175.3L1061.4,204.3L1071.5,213.7ZM1061.5,175.3L1071.5,175.3L1072,81.7L1062.2,72.3ZM1072.8,42.7L1062.9,42.7L1062.2,72.3L1072,81.7ZM1378.8,69.7L1378.8,67.2L1308.9,42.7L1297.1,42.7ZM1458.1,61.3L1454.7,59.7L1378.8,67.2L1378.8,69.7ZM1516.5,43.6L1516.5,42.7L1514.4,42.7L1454.7,59.7L1458.1,61.3Z"/>
<path fill="#00ffce" stroke="#00ffce" d="M1071.6,573.1L1080.1,573.1L1080.1,490.1L1071.5,478.9ZM1080.1,440.5L1071.5,440.5L1071.5,478.9L1080.1,490.1ZM1071.5,440.5L1080.1,440.5L1080.1,357.5L1071.6,346.4ZM1080.1,307.9L1071.5,307.9L1071.6,346.4L1080.1,357.5ZM1071.5,307.9L1080.1,307.9L1080.1,224.8L1071.5,213.7ZM1080.1,175.3L1071.5,175.3L1071.5,213.7L1080.1,224.8ZM1071.5,175.3L1080.1,175.3L1080.4,92.8L1072,81.7ZM1081.2,42.7L1072.8,42.7L1072,81.7L1080.4,92.8ZM1378.8,72.3L1378.8,69.7L1297.1,42.7L1282.4,42.7ZM1461.3,63L1458.1,61.3L1378.8,69.7L1378.8,72.3ZM1516.5,45.3L1516.5,43.6L1458.1,61.3L1461.3,63Z"/>
<path fill="#00ffb8" stroke="#00ffb8" d="M1080.1,573.1L1087.6,573.1L1087.6,504L1080.1,490.1ZM1087.6,440.5L1080.1,440.5L1080.1,490.1L1087.6,504ZM1080.1,440.5L1087.6,440.5L1087.6,371.4L1080.1,357.5ZM1087.6,307.9L1080.1,307.9L1080.1,357.5L1087.6,371.4ZM1080.1,307.9L1087.6,307.9L1087.6,238.7L1080.1,224.8ZM1087.6,175.3L1080.1,175.3L1080.1,224.8L1087.6,238.7ZM1080.1,175.3L1087.6,175.3L1087.8,106.7L1080.4,92.8ZM1088.6,42.7L1081.2,42.7L1080.4,92.8L1087.8,106.7ZM1378.8,75L1378.8,72.3L1282.4,42.7L1262.9,42.7ZM1464.3,64.7L1461.3,63L1378.8,72.3L1378.8,75ZM1516.5,47.1L1516.5,45.3L1461.3,63L1464.3,64.7Z"/>
<path fill="#00ffa3" stroke="#00ffa3" d="M1087.6,573.1L1094.3,573.1L1094.3,522.4L1087.6,504ZM1094.3,440.5L1087.6,440.5L1087.6,504L1094.3,522.4ZM1087.6,440.5L1094.3,440.5L1094.3,389.8L1087.6,371.4ZM1094.2,307.9L1087.6,307.9L1087.6,371.4L1094.3,389.8ZM1087.6,307.9L1094.2,307.9L1094.2,257L1087.6,238.7ZM1094.3,175.3L1087.6,175.3L1087.6,238.7L1094.2,257ZM1087.6,175.3L1094.3,175.3L1094.4,125L1087.8,106.7ZM1095.2,42.7L1088.6,42.7L1087.8,106.7L1094.4,125ZM1378.8,77.9L1378.8,75L1262.9,42.7L1233.7,42.7ZM1467.2,66.5L1464.3,64.7L1378.8,75L1378.8,77.9ZM1516.5,48.9L1516.5,47.1L1464.3,64.7L1467.2,66.5Z"/>
<path fill="#00ff8d" stroke="#00ff8d" d="M1094.3,573.1L1100.3,573.1L1100.3,549.5L1094.3,522.4ZM1100.3,440.5L1094.3,440.5L1094.3,522.4L1100.3,549.5ZM1094.3,440.5L1100.3,440.5L1100.3,416.9L1094.3,389.8ZM1100.2,307.9L1094.2,307.9L1094.3,389.8L1100.3,416.9ZM1094.2,307.9L1100.2,307.9L1100.2,283.9L1094.2,257ZM1100.3,175.3L1094.3,175.3L1094.2,257L1100.2,283.9ZM1094.3,175.3L1100.3,175.3L1100.3,151.9L1094.4,125ZM1101.1,42.7L1095.2,42.7L1094.4,125L1100.3,151.9ZM1378.8,81L1378.8,77.9L1233.7,42.7L1174.4,42.7ZM1470,68.3L1467.2,66.5L1378.8,77.9L1378.8,81ZM1516.5,50.8L1516.5,48.9L1467.2,66.5L1470,68.3Z"/>
<path fill="#00ff77" stroke="#00ff77" d="M1100.3,573.1L1103.4,573.1L1100.3,549.5ZM1103.4,573.1L1103.4,440.5L1100.3,440.5L1100.3,549.5ZM1103.4,573.1L1177.2,573.1L1177.2,441.8L1103.4,440.5ZM1177.2,440.5L1103.4,440.5L1177.2,441.8ZM1100.3,440.5L1103.4,440.5L1100.3,416.9ZM1103.4,440.5L1103.4,307.9L1100.2,307.9L1100.3,416.9ZM1103.4,440.5L1177.2,440.5L1176.3,309.2L1103.4,307.9ZM1176.4,307.9L1103.4,307.9L1176.3,309.2ZM1100.2,307.9L1103.4,307.9L1100.2,283.9ZM1103.4,307.9L1103.4,175.3L1100.3,175.3L1100.2,283.9ZM1103.4,307.9L1176.4,307.9L1177.4,176.6L1103.4,175.3ZM1187,175.3L1103.4,175.3L1177.4,176.6ZM1100.3,175.3L1103.4,175.3L1100.3,151.9ZM1103.4,175.3L1103.4,42.7L1101.1,42.7L1100.3,151.9ZM1103.4,175.3L1187,175.3L1200.2,44.9L1103.4,42.7ZM1378.8,84.2L1378.8,81L1174.4,42.7L1103.4,42.7L1200.2,44.9ZM1472.6,70.2L1470,68.3L1378.8,81L1378.8,84.2ZM1516.5,52.8L1516.5,50.8L1470,68.3L1472.6,70.2Z"/>
<path fill="#00ff62" stroke="#00ff62" d="M1177.2,573.1L1234.7,573.1L1234.7,444.8L1177.2,441.8ZM1234.7,440.5L1177.2,440.5L1177.2,441.8L1234.7,444.8ZM1177.2,440.5L1234.7,440.5L1234.3,312.2L1176.3,309.2ZM1234.5,307.9L1176.4,307.9L1176.3,309.2L1234.3,312.2ZM1176.4,307.9L1234.5,307.9L1234.8,179.6L1177.4,176.6ZM1246.7,175.3L1187,175.3L1177.4,176.6L1234.8,179.6ZM1187,175.3L1246.7,175.3L1251.5,48.7L1200.2,44.9ZM1378.8,87.6L1378.8,84.2L1200.2,44.9L1251.5,48.7ZM1475.1,72.2L1472.6,70.2L1378.8,84.2L1378.8,87.6ZM1516.5,54.9L1516.5,52.8L1472.6,70.2L1475.1,72.2Z"/>
<path fill="#00ff4c" stroke="#00ff4c" d="M1234.7,573.1L1263.4,573.1L1263.4,448.1L1234.7,444.8ZM1263.4,440.5L1234.7,440.5L1234.7,444.8L1263.4,448.1ZM1234.7,440.5L1263.4,440.5L1263.2,315.4L1234.3,312.2ZM1263.4,307.9L1234.5,307.9L1234.3,312.2L1263.2,315.4ZM1234.5,307.9L1263.4,307.9L1263.5,182.9L1234.8,179.6ZM1275.9,175.3L1246.7,175.3L1234.8,179.6L1263.5,182.9ZM1246.7,175.3L1275.9,175.3L1278.7,52.8L1251.5,48.7ZM1378.8,91.2L1378.8,87.6L1251.5,48.7L1278.7,52.8ZM1477.5,74.2L1475.1,72.2L1378.8,87.6L1378.8,91.2ZM1516.5,57L1516.5,54.9L1475.1,72.2L1477.5,74.2Z"/>
<path fill="#00ff36" stroke="#00ff36" d="M1263.4,573.1L1282.7,573.1L1282.7,451.5L1263.4,448.1ZM1282.7,440.5L1263.4,440.5L1263.4,448.1L1282.7,451.5ZM1263.4,440.5L1282.7,440.5L1282.6,318.8L1263.2,315.4ZM1282.7,307.9L1263.4,307.9L1263.2,315.4L1282.6,318.8ZM1263.4,307.9L1282.7,307.9L1282.9,186.3L1263.5,182.9ZM1295.5,175.3L1275.9,175.3L1263.5,182.9L1282.9,186.3ZM1275.9,175.3L1295.5,175.3L1297.3,57.3L1278.7,52.8ZM1378.8,95.1L1378.8,91.2L1278.7,52.8L1297.3,57.3ZM1479.8,76.3L1477.5,74.2L1378.8,91.2L1378.8,95.1ZM1516.5,59.2L1516.5,57L1477.5,74.2L1479.8,76.3Z"/>
<path fill="#00ff21" stroke="#00ff21" d="M1282.7,573.1L1297.3,573.1L1297.3,455.1L1282.7,451.5ZM1297.3,440.5L1282.7,440.5L1282.7,451.5L1297.3,455.1ZM1282.7,440.5L1297.3,440.5L1297.2,322.4L1282.6,318.8ZM1297.4,307.9L1282.7,307.9L1282.6,318.8L1297.2,322.4ZM1282.7,307.9L1297.4,307.9L1297.5,189.9L1282.9,186.3ZM1310.2,175.3L1295.5,175.3L1282.9,186.3L1297.5,189.9ZM1295.5,175.3L1310.2,175.3L1311.5,62.1L1297.3,57.3ZM1378.8,99.2L1378.8,95.1L1297.3,57.3L1311.5,62.1ZM1482.1,78.4L1479.8,76.3L1378.8,95.1L1378.8,99.2ZM1516.5,61.5L1516.5,59.2L1479.8,76.3L1482.1,78.4Z"/>
<path fill="#00ff0b" stroke="#00ff0b" d="M1297.3,573.1L1309,573.1L1309,458.9L1297.3,455.1ZM1309,440.5L1297.3,440.5L1297.3,455.1L1309,458.9ZM1297.3,440.5L1309,440.5L1309,326.3L1297.2,322.4ZM1309.1,307.9L1297.4,307.9L1297.2,322.4L1309,326.3ZM1297.4,307.9L1309.1,307.9L1309.2,193.8L1297.5,189.9ZM1322,175.3L1310.2,175.3L1297.5,189.9L1309.2,193.8ZM1310.2,175.3L1322,175.3L1323,67.4L1311.5,62.1ZM1378.8,103.7L1378.8,99.2L1311.5,62.1L1323,67.4ZM1484.2,80.7L1482.1,78.4L1378.8,99.2L1378.8,103.7ZM1516.5,63.9L1516.5,61.5L1482.1,78.4L1484.2,80.7Z"/>
<path fill="#0bff00" stroke="#0bff00" d="M1309,573.1L1318.8,573.1L1318.8,463.1L1309,458.9ZM1318.8,440.5L1309,440.5L1309,458.9L1318.8,463.1ZM1309,440.5L1318.8,440.5L1318.8,330.5L1309,326.3ZM1318.9,307.9L1309.1,307.9L1309,326.3L1318.8,330.5ZM1309.1,307.9L1318.9,307.9L1319,198L1309.2,193.8ZM1331.9,175.3L1322,175.3L1309.2,193.8L1319,198ZM1322,175.3L1331.9,175.3L1332.6,73.2L1323,67.4ZM1378.8,108.5L1378.8,103.7L1323,67.4L1332.6,73.2ZM1486.3,83L1484.2,80.7L1378.8,103.7L1378.8,108.5ZM1516.5,66.4L1516.5,63.9L1484.2,80.7L1486.3,83Z"/>
<path fill="#21ff00" stroke="#21ff00" d="M1318.8,573.1L1327.2,573.1L1327.2,467.5L1318.8,463.1ZM1327.2,440.5L1318.8,440.5L1318.8,463.1L1327.2,467.5ZM1318.8,440.5L1327.2,440.5L1327.2,334.9L1318.8,330.5ZM1327.3,307.9L1318.9,307.9L1318.8,330.5L1327.2,334.9ZM1318.9,307.9L1327.3,307.9L1327.4,202.4L1319,198ZM1340.3,175.3L1331.9,175.3L1319,198L1327.4,202.4ZM1331.9,175.3L1340.3,175.3L1340.9,79.6L1332.6,73.2ZM1378.8,113.8L1378.8,108.5L1332.6,73.2L1340.9,79.6ZM1488.3,85.5L1486.3,83L1378.8,108.5L1378.8,113.8ZM1516.5,69L1516.5,66.4L1486.3,83L1488.3,85.5Z"/>
<path fill="#36ff00" stroke="#36ff00" d="M1327.2,573.1L1334.6,573.1L1334.6,472.4L1327.2,467.5ZM1334.6,440.5L1327.2,440.5L1327.2,467.5L1334.6,472.4ZM1327.2,440.5L1334.6,440.5L1334.6,339.7L1327.2,334.9ZM1334.7,307.9L1327.3,307.9L1327.2,334.9L1334.6,339.7ZM1327.3,307.9L1334.7,307.9L1334.8,207.3L1327.4,202.4ZM1347.7,175.3L1340.3,175.3L1327.4,202.4L1334.8,207.3ZM1340.3,175.3L1347.7,175.3L1348.1,86.8L1340.9,79.6ZM1378.8,119.6L1378.8,113.8L1340.9,79.6L1348.1,86.8ZM1490.3,88L1488.3,85.5L1378.8,113.8L1378.8,119.6ZM1516.5,71.7L1516.5,69L1488.3,85.5L1490.3,88Z"/>
<path fill="#4cff00" stroke="#4cff00" d="M1334.6,573.1L1341.2,573.1L1341.2,477.7L1334.6,472.4ZM1341.2,440.5L1334.6,440.5L1334.6,472.4L1341.2,477.7ZM1334.6,440.5L1341.2,440.5L1341.1,345L1334.6,339.7ZM1341.3,307.9L1334.7,307.9L1334.6,339.7L1341.1,345ZM1334.7,307.9L1341.3,307.9L1341.3,212.6L1334.8,207.3ZM1354.3,175.3L1347.7,175.3L1334.8,207.3L1341.3,212.6ZM1347.7,175.3L1354.3,175.3L1354.6,95.1L1348.1,86.8ZM1378.8,126L1378.8,119.6L1348.1,86.8L1354.6,95.1ZM1492.2,90.7L1490.3,88L1378.8,119.6L1378.8,126ZM1516.5,74.6L1516.5,71.7L1490.3,88L1492.2,90.7Z"/>
<path fill="#62ff00" stroke="#62ff00" d="M1341.2,573.1L1347.1,573.1L1347.1,483.5L1341.2,477.7ZM1347.1,440.5L1341.2,440.5L1341.2,477.7L1347.1,483.5ZM1341.2,440.5L1347.1,440.5L1347.1,350.8L1341.1,345ZM1347.2,307.9L1341.3,307.9L1341.1,345L1347.1,350.8ZM1341.3,307.9L1347.2,307.9L1347.2,218.4L1341.3,212.6ZM1360.2,175.3L1354.3,175.3L1341.3,212.6L1347.2,218.4ZM1354.3,175.3L1360.2,175.3L1360.5,104.8L1354.6,95.1ZM1378.8,133.3L1378.8,126L1354.6,95.1L1360.5,104.8ZM1494,93.5L1492.2,90.7L1378.8,126L1378.8,133.3ZM1516.5,77.6L1516.5,74.6L1492.2,90.7L1494,93.5Z"/>
<path fill="#77ff00" stroke="#77ff00" d="M1347.1,573.1L1352.5,573.1L1352.5,489.9L1347.1,483.5ZM1352.5,440.5L1347.1,440.5L1347.1,483.5L1352.5,489.9ZM1347.1,440.5L1352.5,440.5L1352.4,357.3L1347.1,350.8ZM1352.6,307.9L1347.2,307.9L1347.1,350.8L1352.4,357.3ZM1347.2,307.9L1352.6,307.9L1352.6,225L1347.2,218.4ZM1365.6,175.3L1360.2,175.3L1347.2,218.4L1352.6,225ZM1360.2,175.3L1365.6,175.3L1365.8,116.5L1360.5,104.8ZM1378.8,141.6L1378.8,133.3L1360.5,104.8L1365.8,116.5ZM1495.8,96.5L1494,93.5L1378.8,133.3L1378.8,141.6ZM1516.5,80.8L1516.5,77.6L1494,93.5L1495.8,96.5Z"/>
<path fill="#8dff00" stroke="#8dff00" d="M1352.5,573.1L1357.4,573.1L1357.4,497.2L1352.5,489.9ZM1357.4,440.5L1352.5,440.5L1352.5,489.9L1357.4,497.2ZM1352.5,440.5L1357.4,440.5L1357.4,364.6L1352.4,357.3ZM1357.6,307.9L1352.6,307.9L1352.4,357.3L1357.4,364.6ZM1352.6,307.9L1357.6,307.9L1357.6,232.3L1352.6,225ZM1370.6,175.3L1365.6,175.3L1352.6,225L1357.6,232.3ZM1365.6,175.3L1370.6,175.3L1370.7,131.1L1365.8,116.5ZM1378.8,151.3L1378.8,141.6L1365.8,116.5L1370.7,131.1ZM1497.5,99.6L1495.8,96.5L1378.8,141.6L1378.8,151.3ZM1516.5,84.1L1516.5,80.8L1495.8,96.5L1497.5,99.6Z"/>
<path fill="#a3ff00" stroke="#a3ff00" d="M1357.4,573.1L1362,573.1L1362,505.6L1357.4,497.2ZM1362,440.5L1357.4,440.5L1357.4,497.2L1362,505.6ZM1357.4,440.5L1362,440.5L1361.9,372.9L1357.4,364.6ZM1362.1,307.9L1357.6,307.9L1357.4,364.6L1361.9,372.9ZM1357.6,307.9L1362.1,307.9L1362.1,240.7L1357.6,232.3ZM1375.2,175.3L1370.6,175.3L1357.6,232.3L1362.1,240.7ZM1370.6,175.3L1375.2,175.3L1375.2,150.8L1370.7,131.1ZM1378.8,163L1378.8,151.3L1370.7,131.1L1375.2,150.8ZM1499.1,102.9L1497.5,99.6L1378.8,151.3L1378.8,163ZM1516.5,87.7L1516.5,84.1L1497.5,99.6L1499.1,102.9Z"/>
<path fill="#b8ff00" stroke="#b8ff00" d="M1362,573.1L1366.2,573.1L1366.2,515.3L1362,505.6ZM1366.2,440.5L1362,440.5L1362,505.6L1366.2,515.3ZM1362,440.5L1366.2,440.5L1366.2,382.7L1361.9,372.9ZM1366.4,307.9L1362.1,307.9L1361.9,372.9L1366.2,382.7ZM1362.1,307.9L1366.4,307.9L1366.4,250.6L1362.1,240.7ZM1378.8,177.5L1378.8,175.3L1375.2,175.3L1362.1,240.7L1366.4,250.6ZM1384,175.8L1378.8,175.3L1378.8,177.5ZM1385.5,175.3L1378.8,175.3L1384,175.8ZM1375.2,175.3L1378.8,175.3L1375.2,150.8ZM1378.8,175.3L1378.8,163L1375.2,150.8ZM1378.8,175.3L1385.5,175.3L1500.8,106.3L1499.1,102.9L1378.8,163ZM1516.5,91.5L1516.5,87.7L1499.1,102.9L1500.8,106.3Z"/>
<path fill="#ceff00" stroke="#ceff00" d="M1366.2,573.1L1370.2,573.1L1370.2,527.1L1366.2,515.3ZM1370.2,440.5L1366.2,440.5L1366.2,515.3L1370.2,527.1ZM1366.2,440.5L1370.2,440.5L1370.1,394.5L1366.2,382.7ZM1370.3,307.9L1366.4,307.9L1366.2,382.7L1370.1,394.5ZM1366.4,307.9L1370.3,307.9L1370.3,262.4L1366.4,250.6ZM1378.8,195.3L1378.8,177.5L1366.4,250.6L1370.3,262.4ZM1410.5,179.5L1384,175.8L1378.8,177.5L1378.8,195.3ZM1417.6,175.3L1385.5,175.3L1384,175.8L1410.5,179.5ZM1385.5,175.3L1417.6,175.3L1502.4,110L1500.8,106.3ZM1516.5,95.6L1516.5,91.5L1500.8,106.3L1502.4,110Z"/>
<path fill="#e4ff00" stroke="#e4ff00" d="M1370.2,573.1L1373.9,573.1L1373.9,541.9L1370.2,527.1ZM1373.9,440.5L1370.2,440.5L1370.2,527.1L1373.9,541.9ZM1370.2,440.5L1373.9,440.5L1373.9,409.2L1370.1,394.5ZM1374,307.9L1370.3,307.9L1370.1,394.5L1373.9,409.2ZM1370.3,307.9L1374,307.9L1374,277.4L1370.3,262.4ZM1378.8,221L1378.8,195.3L1370.3,262.4L1374,277.4ZM1428.8,183.4L1410.5,179.5L1378.8,195.3L1378.8,221ZM1438.3,175.3L1417.6,175.3L1410.5,179.5L1428.8,183.4ZM1417.6,175.3L1438.3,175.3L1503.9,114L1502.4,110ZM1516.5,100L1516.5,95.6L1502.4,110L1503.9,114Z"/>
<path fill="#faff00" stroke="#faff00" d="M1373.9,573.1L1377.4,573.1L1377.4,561.8L1373.9,541.9ZM1377.4,440.5L1373.9,440.5L1373.9,541.9L1377.4,561.8ZM1373.9,440.5L1377.4,440.5L1377.4,429.2L1373.9,409.2ZM1377.5,307.9L1374,307.9L1373.9,409.2L1377.4,429.2ZM1374,307.9L1377.5,307.9L1377.5,297.8L1374,277.4ZM1378.8,268.9L1378.8,221L1374,277.4L1377.5,297.8ZM1442.8,187.5L1428.8,183.4L1378.8,221L1378.8,268.9ZM1453.7,175.3L1438.3,175.3L1428.8,183.4L1442.8,187.5ZM1438.3,175.3L1453.7,175.3L1505.4,118.3L1503.9,114ZM1516.5,104.8L1516.5,100L1503.9,114L1505.4,118.3Z"/>
<path fill="#ffef00" stroke="#ffef00" d="M1377.4,573.1L1378.8,573.1L1377.4,561.8ZM1378.8,573.1L1378.8,440.5L1377.4,440.5L1377.4,561.8ZM1378.8,573.1L1400.8,573.1L1400.8,443.1L1378.8,440.5ZM1400.8,440.5L1378.8,440.5L1400.8,443.1ZM1377.4,440.5L1378.8,440.5L1377.4,429.2ZM1378.8,440.5L1378.8,307.9L1377.5,307.9L1377.4,429.2ZM1378.8,440.5L1400.8,440.5L1402.3,310.7L1378.8,307.9ZM1402.8,307.9L1378.8,307.9L1402.3,310.7ZM1377.5,307.9L1378.8,307.9L1377.5,297.8ZM1378.8,307.9L1378.8,268.9L1377.5,297.8ZM1378.8,307.9L1402.8,307.9L1454.1,192L1442.8,187.5L1378.8,268.9ZM1465.9,175.3L1453.7,175.3L1442.8,187.5L1454.1,192ZM1453.7,175.3L1465.9,175.3L1506.9,122.9L1505.4,118.3ZM1516.5,109.9L1516.5,104.8L1505.4,118.3L1506.9,122.9Z"/>
<path fill="#ffd900" stroke="#ffd900" d="M1400.8,573.1L1426.7,573.1L1426.7,448L1400.8,443.1ZM1426.7,440.5L1400.8,440.5L1400.8,443.1L1426.7,448ZM1400.8,440.5L1426.7,440.5L1427.6,315.7L1402.3,310.7ZM1428.4,307.9L1402.8,307.9L1402.3,310.7L1427.6,315.7ZM1402.8,307.9L1428.4,307.9L1463.6,196.9L1454.1,192ZM1476,175.3L1465.9,175.3L1454.1,192L1463.6,196.9ZM1465.9,175.3L1476,175.3L1508.3,127.8L1506.9,122.9ZM1516.5,115.6L1516.5,109.9L1506.9,122.9L1508.3,127.8Z"/>
<path fill="#ffc300" stroke="#ffc300" d="M1426.7,573.1L1444.7,573.1L1444.7,453.4L1426.7,448ZM1444.7,440.5L1426.7,440.5L1426.7,448L1444.7,453.4ZM1426.7,440.5L1444.7,440.5L1445.3,321L1427.6,315.7ZM1446.3,307.9L1428.4,307.9L1427.6,315.7L1445.3,321ZM1428.4,307.9L1446.3,307.9L1471.8,202.2L1463.6,196.9ZM1484.7,175.3L1476,175.3L1463.6,196.9L1471.8,202.2ZM1476,175.3L1484.7,175.3L1509.7,133.3L1508.3,127.8ZM1516.5,122L1516.5,115.6L1508.3,127.8L1509.7,133.3Z"/>
<path fill="#ffae00" stroke="#ffae00" d="M1444.7,573.1L1458.5,573.1L1458.5,459.3L1444.7,453.4ZM1458.5,440.5L1444.7,440.5L1444.7,453.4L1458.5,459.3ZM1444.7,440.5L1458.5,440.5L1458.9,326.9L1445.3,321ZM1460,307.9L1446.3,307.9L1445.3,321L1458.9,326.9ZM1446.3,307.9L1460,307.9L1479,208.1L1471.8,202.2ZM1492.3,175.3L1484.7,175.3L1471.8,202.2L1479,208.1ZM1484.7,175.3L1492.3,175.3L1511.1,139.3L1509.7,133.3ZM1516.5,129.1L1516.5,122L1509.7,133.3L1511.1,139.3Z"/>
<path fill="#ff9800" stroke="#ff9800" d="M1458.5,573.1L1469.7,573.1L1469.7,465.9L1458.5,459.3ZM1469.7,440.5L1458.5,440.5L1458.5,459.3L1469.7,465.9ZM1458.5,440.5L1469.7,440.5L1470,333.5L1458.9,326.9ZM1471.2,307.9L1460,307.9L1458.9,326.9L1470,333.5ZM1460,307.9L1471.2,307.9L1485.5,214.7L1479,208.1ZM1499,175.3L1492.3,175.3L1479,208.1L1485.5,214.7ZM1492.3,175.3L1499,175.3L1512.4,146.1L1511.1,139.3ZM1516.5,137.2L1516.5,129.1L1511.1,139.3L1512.4,146.1Z"/>
<path fill="#ff8200" stroke="#ff8200" d="M1469.7,573.1L1479.1,573.1L1479.1,473.4L1469.7,465.9ZM1479.1,440.5L1469.7,440.5L1469.7,465.9L1479.1,473.4ZM1469.7,440.5L1479.1,440.5L1479.3,341L1470,333.5ZM1480.6,307.9L1471.2,307.9L1470,333.5L1479.3,341ZM1471.2,307.9L1480.6,307.9L1491.3,222.1L1485.5,214.7ZM1505,175.3L1499,175.3L1485.5,214.7L1491.3,222.1ZM1499,175.3L1505,175.3L1513.7,153.7L1512.4,146.1ZM1516.5,146.6L1516.5,137.2L1512.4,146.1L1513.7,153.7Z"/>
<path fill="#ff6d00" stroke="#ff6d00" d="M1479.1,573.1L1487.3,573.1L1487.3,482L1479.1,473.4ZM1487.3,440.5L1479.1,440.5L1479.1,473.4L1487.3,482ZM1479.1,440.5L1487.3,440.5L1487.4,349.6L1479.3,341ZM1488.7,307.9L1480.6,307.9L1479.3,341L1487.4,349.6ZM1480.6,307.9L1488.7,307.9L1496.6,230.5L1491.3,222.1ZM1510.5,175.3L1505,175.3L1491.3,222.1L1496.6,230.5ZM1505,175.3L1510.5,175.3L1515,162.6L1513.7,153.7ZM1516.5,157.9L1516.5,146.6L1513.7,153.7L1515,162.6Z"/>
<path fill="#ff5700" stroke="#ff5700" d="M1487.3,573.1L1494.4,573.1L1494.4,492L1487.3,482ZM1494.4,440.5L1487.3,440.5L1487.3,482L1494.4,492ZM1487.3,440.5L1494.4,440.5L1494.5,359.6L1487.4,349.6ZM1495.8,307.9L1488.7,307.9L1487.4,349.6L1494.5,359.6ZM1488.7,307.9L1495.8,307.9L1501.5,240.5L1496.6,230.5ZM1515.5,175.3L1510.5,175.3L1496.6,230.5L1501.5,240.5ZM1510.5,175.3L1515.5,175.3L1516.3,173L1515,162.6ZM1516.5,172L1516.5,157.9L1515,162.6L1516.3,173Z"/>
<path fill="#ff4100" stroke="#ff4100" d="M1494.4,573.1L1500.8,573.1L1500.8,504.3L1494.4,492ZM1500.8,440.5L1494.4,440.5L1494.4,492L1500.8,504.3ZM1494.4,440.5L1500.8,440.5L1500.9,371.8L1494.5,359.6ZM1502.2,307.9L1495.8,307.9L1494.5,359.6L1500.9,371.8ZM1495.8,307.9L1502.2,307.9L1506,252.5L1501.5,240.5ZM1516.5,188.7L1516.5,175.3L1515.5,175.3L1501.5,240.5L1506,252.5ZM1515.5,175.3L1516.5,175.3L1516.3,173ZM1516.5,175.3L1516.5,172L1516.3,173Z"/>
<path fill="#ff2b00" stroke="#ff2b00" d="M1500.8,573.1L1506.6,573.1L1506.6,519.8L1500.8,504.3ZM1506.6,440.5L1500.8,440.5L1500.8,504.3L1506.6,519.8ZM1500.8,440.5L1506.6,440.5L1506.7,387.3L1500.9,371.8ZM1508,307.9L1502.2,307.9L1500.9,371.8L1506.7,387.3ZM1502.2,307.9L1508,307.9L1510.1,267.7L1506,252.5ZM1516.5,211.7L1516.5,188.7L1506,252.5L1510.1,267.7Z"/>
<path fill="#ff1600" stroke="#ff1600" d="M1506.6,573.1L1511.9,573.1L1511.9,541.1L1506.6,519.8ZM1511.9,440.5L1506.6,440.5L1506.6,519.8L1511.9,541.1ZM1506.6,440.5L1511.9,440.5L1511.9,408.6L1506.7,387.3ZM1513.3,307.9L1508,307.9L1506.7,387.3L1511.9,408.6ZM1508,307.9L1513.3,307.9L1514.1,288.5L1510.1,267.7ZM1516.5,250.3L1516.5,211.7L1510.1,267.7L1514.1,288.5Z"/>
<path fill="#ff0000" stroke="#ff0000" d="M1511.9,573.1L1516.5,573.1L1511.9,541.1ZM1516.5,573.1L1516.5,440.5L1511.9,440.5L1511.9,541.1ZM1511.9,440.5L1516.5,440.5L1511.9,408.6ZM1516.5,440.5L1516.5,307.9L1513.3,307.9L1511.9,408.6ZM1513.3,307.9L1516.5,307.9L1514.1,288.5ZM1516.5,307.9L1516.5,250.3L1514.1,288.5Z"/>
<path fill="#0000ff" stroke="#0000ff" d="M1378.8,43.3L1378.8,42.7L1377.5,42.7ZM1383.5,43.2L1378.8,42.7L1378.8,43.3ZM1393.5,42.7L1378.8,42.7L1383.5,43.2Z"/>
<path fill="#0016ff" stroke="#0016ff" d="M1378.8,45L1378.8,43.3L1377.5,42.7L1374,42.7ZM1394,44.4L1383.5,43.2L1378.8,43.3L1378.8,45ZM1419.6,42.7L1393.5,42.7L1383.5,43.2L1394,44.4Z"/>
<path fill="#002bff" stroke="#002bff" d="M1378.8,46.7L1378.8,45L1374,42.7L1370.2,42.7ZM1402.9,45.6L1394,44.4L1378.8,45L1378.8,46.7ZM1437.6,42.7L1419.6,42.7L1394,44.4L1402.9,45.6Z"/>
<path fill="#0041ff" stroke="#0041ff" d="M1378.8,48.4L1378.8,46.7L1370.2,42.7L1366.3,42.7ZM1410.6,46.9L1402.9,45.6L1378.8,46.7L1378.8,48.4ZM1451.5,42.7L1437.6,42.7L1402.9,45.6L1410.6,46.9Z"/>
<path fill="#0057ff" stroke="#0057ff" d="M1378.8,50.2L1378.8,48.4L1366.3,42.7L1362,42.7ZM1417.4,48.2L1410.6,46.9L1378.8,48.4L1378.8,50.2ZM1462.7,42.7L1451.5,42.7L1410.6,46.9L1417.4,48.2Z"/>
<path fill="#006dff" stroke="#006dff" d="M1378.8,52.1L1378.8,50.2L1362,42.7L1357.5,42.7ZM1423.6,49.5L1417.4,48.2L1378.8,50.2L1378.8,52.1ZM1472.2,42.7L1462.7,42.7L1417.4,48.2L1423.6,49.5Z"/>
<path fill="#0082ff" stroke="#0082ff" d="M1378.8,54L1378.8,52.1L1357.5,42.7L1352.5,42.7ZM1429.2,50.9L1423.6,49.5L1378.8,52.1L1378.8,54ZM1480.4,42.7L1472.2,42.7L1423.6,49.5L1429.2,50.9Z"/>
<path fill="#0098ff" stroke="#0098ff" d="M1378.8,56L1378.8,54L1352.5,42.7L1347.1,42.7ZM1434.3,52.2L1429.2,50.9L1378.8,54L1378.8,56ZM1487.6,42.7L1480.4,42.7L1429.2,50.9L1434.3,52.2Z"/>
</g>
<g stroke="#454545" stroke-width="1.25" fill="none" stroke-opacity="0.9">
<path d="M1378.8,52.1L1357.5,42.7M1378.8,64.8L1318.7,42.7M1451.2,58.2L1509.9,42.7M1470,68.3L1516.5,50.8M1322,175.3L1323,67.4M1378.8,103.7L1323,67.4M1484.2,80.7L1516.5,63.9M1505,175.3L1513.7,153.7M1513.7,153.7L1516.5,146.6" stroke-dasharray="2.4 3"/>
<path d="M1378.8,52.1L1423.6,49.5M1423.6,49.5L1472.2,42.7" stroke-dasharray="10 8"/>
<path d="M1049.5,573.1L1049.4,461.5M1049.4,461.5L1049.4,440.5M1049.4,440.5L1049.5,328.9M1049.5,328.9L1049.5,307.9M1049.5,307.9L1049.4,196.3M1049.4,196.3L1049.4,175.3M1100.3,573.1L1100.3,549.5M1100.3,549.5L1100.3,440.5M1100.3,440.5L1100.3,416.9M1100.3,416.9L1100.2,307.9M1100.2,307.9L1100.2,283.9M1100.2,283.9L1100.3,175.3M1100.3,175.3L1100.3,151.9M1100.3,151.9L1101.1,42.7M1352.5,573.1L1352.5,489.9M1352.5,489.9L1352.5,440.5"/>
<path d="M1049.4,175.3L1050.4,64.3M1050.4,64.3L1051.1,42.7" stroke-dasharray="90 44 200 0"/>
<path d="M1378.8,64.8L1451.2,58.2M1352.6,307.9L1352.6,225M1352.6,225L1365.6,175.3" stroke-dasharray="9 6"/>
<path d="M1378.8,81L1174.4,42.7M1480.6,307.9L1491.3,222.1M1491.3,222.1L1505,175.3" stroke-dasharray="5 5"/>
<path d="M1378.8,81L1470,68.3" stroke-dasharray="8 6"/>
<path d="M1309.1,307.9L1309.2,193.8M1309.2,193.8L1322,175.3" stroke-dasharray="12 104 12 400"/>
<path d="M1378.8,103.7L1484.2,80.7" stroke-dasharray="7 5"/>
<path d="M1352.5,440.5L1352.4,357.3M1352.4,357.3L1352.6,307.9" stroke-dasharray="120 200"/>
<path d="M1365.6,175.3L1365.8,116.5M1378.8,141.6L1365.8,116.5" stroke-dasharray="52 3 2.4 3 2.4 3 2.4 3 2.4 3 2.4 3 2.4 3 2.4 3"/>
<path d="M1378.8,141.6L1495.8,96.5M1495.8,96.5L1516.5,80.8" stroke-dasharray="2.4 2.6"/>
<path d="M1377.4,440.5L1377.4,429.2M1377.4,429.2L1377.5,307.9" stroke-dasharray="0 50 80 100"/>
<path d="M1377.5,307.9L1377.5,297.8M1377.5,297.8L1378.8,268.9" stroke-dasharray="0 25 12 200"/>
<path d="M1378.8,268.9L1442.8,187.5M1442.8,187.5L1453.7,175.3" stroke-dasharray="20 12 10 8"/>
<path d="M1453.7,175.3L1505.4,118.3M1505.4,118.3L1516.5,104.8" stroke-dasharray="16 6"/>
<path d="M1479.1,573.1L1479.1,473.4M1479.1,473.4L1479.1,440.5" stroke-dasharray="0 30 75 40"/>
<path d="M1479.1,440.5L1479.3,341M1479.3,341L1480.6,307.9" stroke-dasharray="0 20 30 20 15 15"/>
</g>
<rect x="965.7" y="42.7" width="550.8" height="530.4" fill="none" stroke="#000" stroke-width="2.4"/>
<path d="M965.7,573.1v10M965.7,573.1h-10M1061.9,573.1v5M965.7,480.4h-5M1103.4,573.1v10M965.7,440.5h-10M1199.6,573.1v5M965.7,347.8h-5M1241.1,573.1v10M965.7,307.9h-10M1337.3,573.1v5M965.7,215.2h-5M1378.8,573.1v10M965.7,175.3h-10M1475,573.1v5M965.7,82.6h-5M1516.5,573.1v10M965.7,42.7h-10" stroke="#000" stroke-width="2.2" fill="none"/>
<text x="965.7" y="612.2" font-size="22" text-anchor="middle" class="b">10<tspan dy="-9" font-size="14" class="n">15</tspan></text>
<text x="947.5" y="582" font-size="22" text-anchor="end" class="b">10<tspan dy="-9" font-size="14" class="n">10</tspan></text>
<text x="1103.4" y="612.2" font-size="22" text-anchor="middle" class="b">10<tspan dy="-9" font-size="14" class="n">16</tspan></text>
<text x="947.5" y="449.4" font-size="22" text-anchor="end" class="b">10<tspan dy="-9" font-size="14" class="n">11</tspan></text>
<text x="1241.1" y="612.2" font-size="22" text-anchor="middle" class="b">10<tspan dy="-9" font-size="14" class="n">17</tspan></text>
<text x="947.5" y="316.8" font-size="22" text-anchor="end" class="b">10<tspan dy="-9" font-size="14" class="n">12</tspan></text>
<text x="1378.8" y="612.2" font-size="22" text-anchor="middle" class="b">10<tspan dy="-9" font-size="14" class="n">18</tspan></text>
<text x="947.5" y="184.2" font-size="22" text-anchor="end" class="b">10<tspan dy="-9" font-size="14" class="n">13</tspan></text>
<text x="1516.5" y="612.2" font-size="22" text-anchor="middle" class="b">10<tspan dy="-9" font-size="14" class="n">19</tspan></text>
<text x="947.5" y="51.6" font-size="22" text-anchor="end" class="b">10<tspan dy="-9" font-size="14" class="n">14</tspan></text>
<text x="1030" y="657" font-size="28" class="b" textLength="422" lengthAdjust="spacingAndGlyphs">Acceptor concentration N<tspan dy="6" font-size="17" class="n">A</tspan><tspan dy="-6">(cm</tspan><tspan dy="-13" font-size="16" class="n">-3</tspan><tspan dy="13">)</tspan></text>
<text transform="translate(892.5,453) rotate(-90)" font-size="28" class="b" textLength="285" lengthAdjust="spacingAndGlyphs">Interface Defect (cm<tspan dy="-11" font-size="16" class="n">-2</tspan><tspan dy="11">)</tspan></text>
<text x="1002" y="78.3" font-size="26" class="b">(b)</text>
<rect x="1547.3" y="44.6" width="46.4" height="10.4" fill="#808080"/>
<rect x="1547.3" y="55.00" width="46.4" height="509.40" fill="#ff0000"/>
<rect x="1547.3" y="65.61" width="46.4" height="498.79" fill="#ff1600"/>
<rect x="1547.3" y="76.23" width="46.4" height="488.17" fill="#ff2b00"/>
<rect x="1547.3" y="86.84" width="46.4" height="477.56" fill="#ff4100"/>
<rect x="1547.3" y="97.45" width="46.4" height="466.95" fill="#ff5700"/>
<rect x="1547.3" y="108.06" width="46.4" height="456.34" fill="#ff6d00"/>
<rect x="1547.3" y="118.68" width="46.4" height="445.72" fill="#ff8200"/>
<rect x="1547.3" y="129.29" width="46.4" height="435.11" fill="#ff9800"/>
<rect x="1547.3" y="139.90" width="46.4" height="424.50" fill="#ffae00"/>
<rect x="1547.3" y="150.51" width="46.4" height="413.89" fill="#ffc300"/>
<rect x="1547.3" y="161.12" width="46.4" height="403.27" fill="#ffd900"/>
<rect x="1547.3" y="171.74" width="46.4" height="392.66" fill="#ffef00"/>
<rect x="1547.3" y="182.35" width="46.4" height="382.05" fill="#faff00"/>
<rect x="1547.3" y="192.96" width="46.4" height="371.44" fill="#e4ff00"/>
<rect x="1547.3" y="203.57" width="46.4" height="360.82" fill="#ceff00"/>
<rect x="1547.3" y="214.19" width="46.4" height="350.21" fill="#b8ff00"/>
<rect x="1547.3" y="224.80" width="46.4" height="339.60" fill="#a3ff00"/>
<rect x="1547.3" y="235.41" width="46.4" height="328.99" fill="#8dff00"/>
<rect x="1547.3" y="246.03" width="46.4" height="318.37" fill="#77ff00"/>
<rect x="1547.3" y="256.64" width="46.4" height="307.76" fill="#62ff00"/>
<rect x="1547.3" y="267.25" width="46.4" height="297.15" fill="#4cff00"/>
<rect x="1547.3" y="277.86" width="46.4" height="286.54" fill="#36ff00"/>
<rect x="1547.3" y="288.48" width="46.4" height="275.92" fill="#21ff00"/>
<rect x="1547.3" y="299.09" width="46.4" height="265.31" fill="#0bff00"/>
<rect x="1547.3" y="309.70" width="46.4" height="254.70" fill="#00ff0b"/>
<rect x="1547.3" y="320.31" width="46.4" height="244.09" fill="#00ff21"/>
<rect x="1547.3" y="330.93" width="46.4" height="233.47" fill="#00ff36"/>
<rect x="1547.3" y="341.54" width="46.4" height="222.86" fill="#00ff4c"/>
<rect x="1547.3" y="352.15" width="46.4" height="212.25" fill="#00ff62"/>
<rect x="1547.3" y="362.76" width="46.4" height="201.64" fill="#00ff77"/>
<rect x="1547.3" y="373.38" width="46.4" height="191.02" fill="#00ff8d"/>
<rect x="1547.3" y="383.99" width="46.4" height="180.41" fill="#00ffa3"/>
<rect x="1547.3" y="394.60" width="46.4" height="169.80" fill="#00ffb8"/>
<rect x="1547.3" y="405.21" width="46.4" height="159.19" fill="#00ffce"/>
<rect x="1547.3" y="415.82" width="46.4" height="148.57" fill="#00ffe4"/>
<rect x="1547.3" y="426.44" width="46.4" height="137.96" fill="#00fffa"/>
<rect x="1547.3" y="437.05" width="46.4" height="127.35" fill="#00efff"/>
<rect x="1547.3" y="447.66" width="46.4" height="116.74" fill="#00d9ff"/>
<rect x="1547.3" y="458.27" width="46.4" height="106.12" fill="#00c3ff"/>
<rect x="1547.3" y="468.89" width="46.4" height="95.51" fill="#00aeff"/>
<rect x="1547.3" y="479.50" width="46.4" height="84.90" fill="#0098ff"/>
<rect x="1547.3" y="490.11" width="46.4" height="74.29" fill="#0082ff"/>
<rect x="1547.3" y="500.72" width="46.4" height="63.67" fill="#006dff"/>
<rect x="1547.3" y="511.34" width="46.4" height="53.06" fill="#0057ff"/>
<rect x="1547.3" y="521.95" width="46.4" height="42.45" fill="#0041ff"/>
<rect x="1547.3" y="532.56" width="46.4" height="31.84" fill="#002bff"/>
<rect x="1547.3" y="543.17" width="46.4" height="21.22" fill="#0016ff"/>
<rect x="1547.3" y="553.79" width="46.4" height="10.61" fill="#0000ff"/>
<rect x="1547.3" y="564.4" width="46.4" height="10.9" fill="#000000"/>
<rect x="1547.3" y="44.6" width="46.4" height="530.7" fill="none" stroke="#2a2a2a" stroke-width="1.4"/>
<path d="M1593.7,564.40h10M1593.7,500.72h10M1593.7,437.05h10M1593.7,373.38h10M1593.7,309.70h10M1593.7,246.02h10M1593.7,182.35h10M1593.7,118.68h10M1593.7,55.00h10" stroke="#222" stroke-width="1.6" fill="none"/>
<text x="1610.5" y="570.1" font-size="17" class="b">33.76</text>
<text x="1610.5" y="506.4" font-size="17" class="b">33.78</text>
<text x="1610.5" y="442.7" font-size="17" class="b">33.81</text>
<text x="1610.5" y="379.1" font-size="17" class="b">33.83</text>
<text x="1610.5" y="315.4" font-size="17" class="b">33.85</text>
<text x="1610.5" y="251.7" font-size="17" class="b">33.87</text>
<text x="1610.5" y="188.1" font-size="17" class="b">33.90</text>
<text x="1610.5" y="124.4" font-size="17" class="b">33.92</text>
<text x="1610.5" y="60.7" font-size="17" class="b">33.94</text>
<text x="1487.8" y="25.5" font-size="27" class="b" textLength="165" lengthAdjust="spacingAndGlyphs">Jsc(mA/cm<tspan dy="-12" font-size="17" class="n">2</tspan><tspan dy="12">)</tspan></text>
</g>
<g>
<g stroke-width="0.7" stroke-linejoin="round">
<path fill="#0000ff" stroke="#0000ff" d="M101.3,1252.2L118.5,1252.2L114.5,1123.8L101.3,1122.3ZM114.5,1122.3L101.3,1122.3L114.5,1123.8ZM101.3,1122.3L114.5,1122.3L105.4,992.9L101.3,992.5ZM105.5,992.5L101.3,992.5L105.4,992.9ZM101.3,992.5L105.5,992.5L101.3,974.9Z"/>
<path fill="#0016ff" stroke="#0016ff" d="M118.5,1252.2L132.9,1252.2L129.8,1126L114.5,1123.8ZM129.8,1122.3L114.5,1122.3L114.5,1123.8L129.8,1126ZM114.5,1122.3L129.8,1122.3L123.3,995.1L105.4,992.9ZM123.8,992.5L105.5,992.5L105.4,992.9L123.3,995.1ZM105.5,992.5L123.8,992.5L101.3,925.4L101.3,974.9Z"/>
<path fill="#002bff" stroke="#002bff" d="M132.9,1252.2L144.4,1252.2L142,1128.3L129.8,1126ZM142,1122.3L129.8,1122.3L129.8,1126L142,1128.3ZM129.8,1122.3L142,1122.3L137,997.4L123.3,995.1ZM137.6,992.5L123.8,992.5L123.3,995.1L137,997.4ZM123.8,992.5L137.6,992.5L101.3,899.4L101.3,925.4Z"/>
<path fill="#0041ff" stroke="#0041ff" d="M144.4,1252.2L154,1252.2L152.1,1130.7L142,1128.3ZM152.1,1122.3L142,1122.3L142,1128.3L152.1,1130.7ZM142,1122.3L152.1,1122.3L148.1,999.8L137,997.4ZM148.9,992.5L137.6,992.5L137,997.4L148.1,999.8ZM137.6,992.5L148.9,992.5L101.3,881.7L101.3,899.4Z"/>
<path fill="#0057ff" stroke="#0057ff" d="M154,1252.2L162.3,1252.2L160.7,1133.2L152.1,1130.7ZM160.7,1122.3L152.1,1122.3L152.1,1130.7L160.7,1133.2ZM152.1,1122.3L160.7,1122.3L157.4,1002.3L148.1,999.8ZM158.3,992.5L148.9,992.5L148.1,999.8L157.4,1002.3ZM148.9,992.5L158.3,992.5L101.3,868.3L101.3,881.7Z"/>
<path fill="#006dff" stroke="#006dff" d="M162.3,1252.2L169.5,1252.2L168.2,1135.8L160.7,1133.2ZM168.2,1122.3L160.7,1122.3L160.7,1133.2L168.2,1135.8ZM160.7,1122.3L168.2,1122.3L165.5,1005L157.4,1002.3ZM166.4,992.5L158.3,992.5L157.4,1002.3L165.5,1005ZM158.3,992.5L166.4,992.5L114.2,864L101.3,862.6L101.3,868.3ZM117.5,862.6L101.3,862.6L114.2,864ZM101.3,862.6L117.5,862.6L101.3,847.3Z"/>
<path fill="#0082ff" stroke="#0082ff" d="M169.5,1252.2L175.9,1252.2L174.8,1138.6L168.2,1135.8ZM174.8,1122.3L168.2,1122.3L168.2,1135.8L174.8,1138.6ZM168.2,1122.3L174.8,1122.3L172.6,1007.7L165.5,1005ZM173.5,992.5L166.4,992.5L165.5,1005L172.6,1007.7ZM166.4,992.5L173.5,992.5L133.8,866.9L114.2,864ZM140.7,862.6L117.5,862.6L114.2,864L133.8,866.9ZM117.5,862.6L140.7,862.6L101.3,825.4L101.3,847.3Z"/>
<path fill="#0098ff" stroke="#0098ff" d="M175.9,1252.2L181.7,1252.2L180.8,1141.5L174.8,1138.6ZM180.8,1122.3L174.8,1122.3L174.8,1138.6L180.8,1141.5ZM174.8,1122.3L180.8,1122.3L178.9,1010.6L172.6,1007.7ZM179.9,992.5L173.5,992.5L172.6,1007.7L178.9,1010.6ZM173.5,992.5L179.9,992.5L148.4,870L133.8,866.9ZM157.2,862.6L140.7,862.6L133.8,866.9L148.4,870ZM140.7,862.6L157.2,862.6L101.3,809.6L101.3,825.4Z"/>
<path fill="#00aeff" stroke="#00aeff" d="M181.7,1252.2L187,1252.2L186.2,1144.5L180.8,1141.5ZM186.2,1122.3L180.8,1122.3L180.8,1141.5L186.2,1144.5ZM180.8,1122.3L186.2,1122.3L184.6,1013.7L178.9,1010.6ZM185.6,992.5L179.9,992.5L178.9,1010.6L184.6,1013.7ZM179.9,992.5L185.6,992.5L160.1,873.3L148.4,870ZM170.1,862.6L157.2,862.6L148.4,870L160.1,873.3ZM157.2,862.6L170.1,862.6L101.3,797.3L101.3,809.6Z"/>
<path fill="#00c3ff" stroke="#00c3ff" d="M187,1252.2L191.9,1252.2L191.2,1147.8L186.2,1144.5ZM191.2,1122.3L186.2,1122.3L186.2,1144.5L191.2,1147.8ZM186.2,1122.3L191.2,1122.3L189.8,1016.9L184.6,1013.7ZM190.8,992.5L185.6,992.5L184.6,1013.7L189.8,1016.9ZM185.6,992.5L190.8,992.5L169.8,876.7L160.1,873.3ZM180.6,862.6L170.1,862.6L160.1,873.3L169.8,876.7ZM170.1,862.6L180.6,862.6L101.3,787.2L101.3,797.3Z"/>
<path fill="#00d9ff" stroke="#00d9ff" d="M191.9,1252.2L196.3,1252.2L195.7,1151.2L191.2,1147.8ZM195.7,1122.3L191.2,1122.3L191.2,1147.8L195.7,1151.2ZM191.2,1122.3L195.7,1122.3L194.5,1020.4L189.8,1016.9ZM195.6,992.5L190.8,992.5L189.8,1016.9L194.5,1020.4ZM190.8,992.5L195.6,992.5L178.2,880.4L169.8,876.7ZM189.6,862.6L180.6,862.6L169.8,876.7L178.2,880.4ZM180.6,862.6L189.6,862.6L101.3,778.7L101.3,787.2Z"/>
<path fill="#00efff" stroke="#00efff" d="M196.3,1252.2L200.5,1252.2L200,1154.8L195.7,1151.2ZM200,1122.3L195.7,1122.3L195.7,1151.2L200,1154.8ZM195.7,1122.3L200,1122.3L198.9,1024L194.5,1020.4ZM200,992.5L195.6,992.5L194.5,1020.4L198.9,1024ZM195.6,992.5L200,992.5L185.5,884.4L178.2,880.4ZM197.3,862.6L189.6,862.6L178.2,880.4L185.5,884.4ZM189.6,862.6L197.3,862.6L101.3,771.3L101.3,778.7ZM236.3,736.3L236.3,732.7L232.7,732.7ZM292.6,733.5L236.3,732.7L236.3,736.3ZM302.6,732.7L236.3,732.7L292.6,733.5Z"/>
<path fill="#00fffa" stroke="#00fffa" d="M200.5,1252.2L204.4,1252.2L203.9,1158.7L200,1154.8ZM203.9,1122.3L200,1122.3L200,1154.8L203.9,1158.7ZM200,1122.3L203.9,1122.3L203,1027.9L198.9,1024ZM204.2,992.5L200,992.5L198.9,1024L203,1027.9ZM200,992.5L204.2,992.5L192,888.6L185.5,884.4ZM204.2,862.6L197.3,862.6L185.5,884.4L192,888.6ZM197.3,862.6L204.2,862.6L101.3,764.7L101.3,771.3ZM236.3,743.3L236.3,736.3L232.7,732.7L225.7,732.7ZM336.2,735.1L292.6,733.5L236.3,736.3L236.3,743.3ZM349.1,732.7L302.6,732.7L292.6,733.5L336.2,735.1Z"/>
<path fill="#00ffe4" stroke="#00ffe4" d="M204.4,1252.2L208,1252.2L207.6,1162.9L203.9,1158.7ZM207.6,1122.3L203.9,1122.3L203.9,1158.7L207.6,1162.9ZM203.9,1122.3L207.6,1122.3L206.9,1032.2L203,1027.9ZM208,992.5L204.2,992.5L203,1027.9L206.9,1032.2ZM204.2,992.5L208,992.5L197.8,893.2L192,888.6ZM210.3,862.6L204.2,862.6L192,888.6L197.8,893.2ZM204.2,862.6L210.3,862.6L101.3,758.8L101.3,764.7ZM236.3,751.4L236.3,743.3L225.7,732.7L217.8,732.7ZM360.9,736.6L336.2,735.1L236.3,743.3L236.3,751.4ZM374.7,732.7L349.1,732.7L336.2,735.1L360.9,736.6Z"/>
<path fill="#00ffce" stroke="#00ffce" d="M208,1252.2L211.4,1252.2L211.1,1167.5L207.6,1162.9ZM211.1,1122.3L207.6,1122.3L207.6,1162.9L211.1,1167.5ZM207.6,1122.3L211.1,1122.3L210.5,1036.7L206.9,1032.2ZM211.6,992.5L208,992.5L206.9,1032.2L210.5,1036.7ZM208,992.5L211.6,992.5L203.2,898.2L197.8,893.2ZM215.9,862.6L210.3,862.6L197.8,893.2L203.2,898.2ZM210.3,862.6L215.9,862.6L101.3,753.5L101.3,758.8ZM236.3,760.8L236.3,751.4L217.8,732.7L208.6,732.7ZM378.3,738.2L360.9,736.6L236.3,751.4L236.3,760.8ZM392.5,732.7L374.7,732.7L360.9,736.6L378.3,738.2Z"/>
<path fill="#00ffb8" stroke="#00ffb8" d="M211.4,1252.2L214.7,1252.2L214.4,1172.4L211.1,1167.5ZM214.4,1122.3L211.1,1122.3L211.1,1167.5L214.4,1172.4ZM211.1,1122.3L214.4,1122.3L213.9,1041.6L210.5,1036.7ZM215,992.5L211.6,992.5L210.5,1036.7L213.9,1041.6ZM211.6,992.5L215,992.5L208,903.7L203.2,898.2ZM221,862.6L215.9,862.6L203.2,898.2L208,903.7ZM215.9,862.6L221,862.6L101.3,748.6L101.3,753.5ZM236.3,772.1L236.3,760.8L208.6,732.7L197.7,732.7ZM391.6,739.9L378.3,738.2L236.3,760.8L236.3,772.1ZM406.1,732.7L392.5,732.7L378.3,738.2L391.6,739.9Z"/>
<path fill="#00ffa3" stroke="#00ffa3" d="M214.7,1252.2L217.7,1252.2L217.5,1177.8L214.4,1172.4ZM217.5,1122.3L214.4,1122.3L214.4,1172.4L217.5,1177.8ZM214.4,1122.3L217.5,1122.3L217.1,1047.1L213.9,1041.6ZM218.2,992.5L215,992.5L213.9,1041.6L217.1,1047.1ZM215,992.5L218.2,992.5L212.5,909.8L208,903.7ZM225.6,862.6L221,862.6L208,903.7L212.5,909.8ZM221,862.6L225.6,862.6L101.3,744.2L101.3,748.6ZM236.3,786.2L236.3,772.1L197.7,732.7L184.3,732.7ZM402.5,741.6L391.6,739.9L236.3,772.1L236.3,786.2ZM417.1,732.7L406.1,732.7L391.6,739.9L402.5,741.6Z"/>
<path fill="#00ff8d" stroke="#00ff8d" d="M217.7,1252.2L220.7,1252.2L220.5,1183.8L217.5,1177.8ZM220.5,1122.3L217.5,1122.3L217.5,1177.8L220.5,1183.8ZM217.5,1122.3L220.5,1122.3L220.1,1053.1L217.1,1047.1ZM221.3,992.5L218.2,992.5L217.1,1047.1L220.1,1053.1ZM218.2,992.5L221.3,992.5L216.7,916.6L212.5,909.8ZM229.9,862.6L225.6,862.6L212.5,909.8L216.7,916.6ZM225.6,862.6L229.9,862.6L101.3,740L101.3,744.2ZM236.3,805L236.3,786.2L184.3,732.7L166.9,732.7ZM411.7,743.3L402.5,741.6L236.3,786.2L236.3,805ZM426.4,732.7L417.1,732.7L402.5,741.6L411.7,743.3Z"/>
<path fill="#00ff77" stroke="#00ff77" d="M220.7,1252.2L223.4,1252.2L223.3,1190.4L220.5,1183.8ZM223.3,1122.3L220.5,1122.3L220.5,1183.8L223.3,1190.4ZM220.5,1122.3L223.3,1122.3L223,1059.8L220.1,1053.1ZM224.2,992.5L221.3,992.5L220.1,1053.1L223,1059.8ZM221.3,992.5L224.2,992.5L220.6,924.3L216.7,916.6ZM234,862.6L229.9,862.6L216.7,916.6L220.6,924.3ZM229.9,862.6L234,862.6L101.3,736.1L101.3,740ZM236.3,833.6L236.3,805L166.9,732.7L142.1,732.7ZM419.6,745.2L411.7,743.3L236.3,805L236.3,833.6ZM434.4,732.7L426.4,732.7L411.7,743.3L419.6,745.2Z"/>
<path fill="#00ff62" stroke="#00ff62" d="M223.4,1252.2L226.1,1252.2L226,1198L223.3,1190.4ZM226,1122.3L223.3,1122.3L223.3,1190.4L226,1198ZM223.3,1122.3L226,1122.3L225.7,1067.4L223,1059.8ZM226.9,992.5L224.2,992.5L223,1059.8L225.7,1067.4ZM224.2,992.5L226.9,992.5L224.3,933.3L220.6,924.3ZM236.3,867.6L236.3,862.6L234,862.6L220.6,924.3L224.3,933.3ZM287.1,863.3L236.3,862.6L236.3,867.6ZM289.4,862.6L236.3,862.6L287.1,863.3ZM234,862.6L236.3,862.6L101.3,732.7L101.3,736.1ZM236.3,862.6L236.3,833.6L142.1,732.7L101.3,732.7ZM236.3,862.6L289.4,862.6L426.6,747L419.6,745.2L236.3,833.6ZM441.5,732.7L434.4,732.7L419.6,745.2L426.6,747Z"/>
<path fill="#00ff4c" stroke="#00ff4c" d="M226.1,1252.2L228.6,1252.2L228.5,1206.7L226,1198ZM228.5,1122.3L226,1122.3L226,1198L228.5,1206.7ZM226,1122.3L228.5,1122.3L228.4,1076.2L225.7,1067.4ZM229.6,992.5L226.9,992.5L225.7,1067.4L228.4,1076.2ZM226.9,992.5L229.6,992.5L227.7,944L224.3,933.3ZM236.3,882.8L236.3,867.6L224.3,933.3L227.7,944ZM340.5,865.2L287.1,863.3L236.3,867.6L236.3,882.8ZM343.8,862.6L289.4,862.6L287.1,863.3L340.5,865.2ZM289.4,862.6L343.8,862.6L432.8,749L426.6,747ZM447.7,732.7L441.5,732.7L426.6,747L432.8,749Z"/>
<path fill="#00ff36" stroke="#00ff36" d="M228.6,1252.2L231.1,1252.2L231,1217.1L228.5,1206.7ZM231,1122.3L228.5,1122.3L228.5,1206.7L231,1217.1ZM228.5,1122.3L231,1122.3L230.9,1086.7L228.4,1076.2ZM232.1,992.5L229.6,992.5L228.4,1076.2L230.9,1086.7ZM229.6,992.5L232.1,992.5L231,957.2L227.7,944ZM236.3,903.8L236.3,882.8L227.7,944L231,957.2ZM368,867.1L340.5,865.2L236.3,882.8L236.3,903.8ZM371.5,862.6L343.8,862.6L340.5,865.2L368,867.1ZM343.8,862.6L371.5,862.6L438.5,751L432.8,749ZM453.4,732.7L447.7,732.7L432.8,749L438.5,751Z"/>
<path fill="#00ff21" stroke="#00ff21" d="M231.1,1252.2L233.4,1252.2L233.4,1229.8L231,1217.1ZM233.4,1122.3L231,1122.3L231,1217.1L233.4,1229.8ZM231,1122.3L233.4,1122.3L233.3,1099.5L230.9,1086.7ZM234.5,992.5L232.1,992.5L230.9,1086.7L233.3,1099.5ZM232.1,992.5L234.5,992.5L234.1,974.5L231,957.2ZM236.3,937.5L236.3,903.8L231,957.2L234.1,974.5ZM386.6,869.1L368,867.1L236.3,903.8L236.3,937.5ZM390.3,862.6L371.5,862.6L368,867.1L386.6,869.1ZM371.5,862.6L390.3,862.6L443.6,753.1L438.5,751ZM458.6,732.7L453.4,732.7L438.5,751L443.6,753.1Z"/>
<path fill="#00ff0b" stroke="#00ff0b" d="M233.4,1252.2L235.6,1252.2L235.6,1246.2L233.4,1229.8ZM235.6,1122.3L233.4,1122.3L233.4,1229.8L235.6,1246.2ZM233.4,1122.3L235.6,1122.3L235.6,1116.2L233.3,1099.5ZM236.3,1021.3L236.3,992.5L234.5,992.5L233.3,1099.5L235.6,1116.2ZM276.6,993L236.3,992.5L236.3,1021.3ZM276.8,992.5L236.3,992.5L276.6,993ZM234.5,992.5L236.3,992.5L234.1,974.5ZM236.3,992.5L236.3,937.5L234.1,974.5ZM236.3,992.5L276.8,992.5L400.7,871.2L386.6,869.1L236.3,937.5ZM404.4,862.6L390.3,862.6L386.6,869.1L400.7,871.2ZM390.3,862.6L404.4,862.6L448.3,755.2L443.6,753.1ZM463.4,732.7L458.6,732.7L443.6,753.1L448.3,755.2Z"/>
<path fill="#0bff00" stroke="#0bff00" d="M235.6,1252.2L236.3,1252.2L235.6,1246.2ZM236.3,1252.2L236.3,1122.3L235.6,1122.3L235.6,1246.2ZM236.3,1252.2L316.8,1252.2L316.8,1123.9L236.3,1122.3ZM316.9,1122.3L236.3,1122.3L316.8,1123.9ZM235.6,1122.3L236.3,1122.3L235.6,1116.2ZM236.3,1122.3L236.3,1021.3L235.6,1116.2ZM236.3,1122.3L316.9,1122.3L342.5,995.1L276.6,993L236.3,1021.3ZM342.8,992.5L276.8,992.5L276.6,993L342.5,995.1ZM276.8,992.5L342.8,992.5L412.1,873.3L400.7,871.2ZM415.9,862.6L404.4,862.6L400.7,871.2L412.1,873.3ZM404.4,862.6L415.9,862.6L452.7,757.5L448.3,755.2ZM467.8,732.7L463.4,732.7L448.3,755.2L452.7,757.5Z"/>
<path fill="#21ff00" stroke="#21ff00" d="M316.8,1252.2L359.3,1252.2L359.3,1126.1L316.8,1123.9ZM359.5,1122.3L316.9,1122.3L316.8,1123.9L359.3,1126.1ZM316.9,1122.3L359.5,1122.3L372.7,997.4L342.5,995.1ZM373,992.5L342.8,992.5L342.5,995.1L372.7,997.4ZM342.8,992.5L373,992.5L421.6,875.5L412.1,873.3ZM425.4,862.6L415.9,862.6L412.1,873.3L421.6,875.5ZM415.9,862.6L425.4,862.6L456.8,759.8L452.7,757.5ZM471.9,732.7L467.8,732.7L452.7,757.5L456.8,759.8Z"/>
<path fill="#36ff00" stroke="#36ff00" d="M359.3,1252.2L383.7,1252.2L383.7,1128.5L359.3,1126.1ZM383.9,1122.3L359.5,1122.3L359.3,1126.1L383.7,1128.5ZM359.5,1122.3L383.9,1122.3L392.5,999.8L372.7,997.4ZM392.9,992.5L373,992.5L372.7,997.4L392.5,999.8ZM373,992.5L392.9,992.5L429.8,877.9L421.6,875.5ZM433.6,862.6L425.4,862.6L421.6,875.5L429.8,877.9ZM425.4,862.6L433.6,862.6L460.6,762.2L456.8,759.8ZM475.7,732.7L471.9,732.7L456.8,759.8L460.6,762.2Z"/>
<path fill="#4cff00" stroke="#4cff00" d="M383.7,1252.2L400.9,1252.2L400.9,1130.9L383.7,1128.5ZM401.1,1122.3L383.9,1122.3L383.7,1128.5L400.9,1130.9ZM383.9,1122.3L401.1,1122.3L407.3,1002.2L392.5,999.8ZM407.7,992.5L392.9,992.5L392.5,999.8L407.3,1002.2ZM392.9,992.5L407.7,992.5L437,880.3L429.8,877.9ZM440.8,862.6L433.6,862.6L429.8,877.9L437,880.3ZM433.6,862.6L440.8,862.6L464.1,764.8L460.6,762.2ZM479.3,732.7L475.7,732.7L460.6,762.2L464.1,764.8Z"/>
<path fill="#62ff00" stroke="#62ff00" d="M400.9,1252.2L414.1,1252.2L414.1,1133.5L400.9,1130.9ZM414.3,1122.3L401.1,1122.3L400.9,1130.9L414.1,1133.5ZM401.1,1122.3L414.3,1122.3L419.1,1004.8L407.3,1002.2ZM419.5,992.5L407.7,992.5L407.3,1002.2L419.1,1004.8ZM407.7,992.5L419.5,992.5L443.4,882.8L437,880.3ZM447.2,862.6L440.8,862.6L437,880.3L443.4,882.8ZM440.8,862.6L447.2,862.6L467.5,767.5L464.1,764.8ZM482.7,732.7L479.3,732.7L464.1,764.8L467.5,767.5Z"/>
<path fill="#77ff00" stroke="#77ff00" d="M414.1,1252.2L425,1252.2L425,1136.2L414.1,1133.5ZM425.1,1122.3L414.3,1122.3L414.1,1133.5L425,1136.2ZM414.3,1122.3L425.1,1122.3L429,1007.5L419.1,1004.8ZM429.3,992.5L419.5,992.5L419.1,1004.8L429,1007.5ZM419.5,992.5L429.3,992.5L449.2,885.5L443.4,882.8ZM453,862.6L447.2,862.6L443.4,882.8L449.2,885.5ZM447.2,862.6L453,862.6L470.7,770.3L467.5,767.5ZM485.9,732.7L482.7,732.7L467.5,767.5L470.7,770.3Z"/>
<path fill="#8dff00" stroke="#8dff00" d="M425,1252.2L434.1,1252.2L434.1,1139L425,1136.2ZM434.3,1122.3L425.1,1122.3L425,1136.2L434.1,1139ZM425.1,1122.3L434.3,1122.3L437.4,1010.3L429,1007.5ZM437.7,992.5L429.3,992.5L429,1007.5L437.4,1010.3ZM429.3,992.5L437.7,992.5L454.4,888.3L449.2,885.5ZM458.3,862.6L453,862.6L449.2,885.5L454.4,888.3ZM453,862.6L458.3,862.6L473.7,773.2L470.7,770.3ZM488.9,732.7L485.9,732.7L470.7,770.3L473.7,773.2Z"/>
<path fill="#a3ff00" stroke="#a3ff00" d="M434.1,1252.2L442,1252.2L442,1142L434.1,1139ZM442.2,1122.3L434.3,1122.3L434.1,1139L442,1142ZM434.3,1122.3L442.2,1122.3L444.7,1013.3L437.4,1010.3ZM445.1,992.5L437.7,992.5L437.4,1010.3L444.7,1013.3ZM437.7,992.5L445.1,992.5L459.2,891.2L454.4,888.3ZM463.1,862.6L458.3,862.6L454.4,888.3L459.2,891.2ZM458.3,862.6L463.1,862.6L476.6,776.3L473.7,773.2ZM491.8,732.7L488.9,732.7L473.7,773.2L476.6,776.3Z"/>
<path fill="#b8ff00" stroke="#b8ff00" d="M442,1252.2L448.9,1252.2L448.9,1145.1L442,1142ZM449.1,1122.3L442.2,1122.3L442,1142L448.9,1145.1ZM442.2,1122.3L449.1,1122.3L451.3,1016.4L444.7,1013.3ZM451.6,992.5L445.1,992.5L444.7,1013.3L451.3,1016.4ZM445.1,992.5L451.6,992.5L463.7,894.3L459.2,891.2ZM467.5,862.6L463.1,862.6L459.2,891.2L463.7,894.3ZM463.1,862.6L467.5,862.6L479.3,779.6L476.6,776.3ZM494.5,732.7L491.8,732.7L476.6,776.3L479.3,779.6Z"/>
<path fill="#ceff00" stroke="#ceff00" d="M448.9,1252.2L455.2,1252.2L455.2,1148.5L448.9,1145.1ZM455.3,1122.3L449.1,1122.3L448.9,1145.1L455.2,1148.5ZM449.1,1122.3L455.3,1122.3L457.1,1019.8L451.3,1016.4ZM457.5,992.5L451.6,992.5L451.3,1016.4L457.1,1019.8ZM451.6,992.5L457.5,992.5L467.8,897.6L463.7,894.3ZM471.7,862.6L467.5,862.6L463.7,894.3L467.8,897.6ZM467.5,862.6L471.7,862.6L482,783.1L479.3,779.6ZM497.2,732.7L494.5,732.7L479.3,779.6L482,783.1Z"/>
<path fill="#e4ff00" stroke="#e4ff00" d="M455.2,1252.2L460.8,1252.2L460.8,1152L455.2,1148.5ZM461,1122.3L455.3,1122.3L455.2,1148.5L460.8,1152ZM455.3,1122.3L461,1122.3L462.5,1023.3L457.1,1019.8ZM462.8,992.5L457.5,992.5L457.1,1019.8L462.5,1023.3ZM457.5,992.5L462.8,992.5L471.7,901.1L467.8,897.6ZM475.6,862.6L471.7,862.6L467.8,897.6L471.7,901.1ZM471.7,862.6L475.6,862.6L484.5,786.9L482,783.1ZM499.7,732.7L497.2,732.7L482,783.1L484.5,786.9Z"/>
<path fill="#faff00" stroke="#faff00" d="M460.8,1252.2L465.9,1252.2L465.9,1155.8L460.8,1152ZM466.1,1122.3L461,1122.3L460.8,1152L465.9,1155.8ZM461,1122.3L466.1,1122.3L467.4,1027.1L462.5,1023.3ZM467.7,992.5L462.8,992.5L462.5,1023.3L467.4,1027.1ZM462.8,992.5L467.7,992.5L475.3,904.8L471.7,901.1ZM479.2,862.6L475.6,862.6L471.7,901.1L475.3,904.8ZM475.6,862.6L479.2,862.6L486.9,790.9L484.5,786.9ZM502.1,732.7L499.7,732.7L484.5,786.9L486.9,790.9Z"/>
<path fill="#ffef00" stroke="#ffef00" d="M465.9,1252.2L470.6,1252.2L470.6,1159.8L465.9,1155.8ZM470.8,1122.3L466.1,1122.3L465.9,1155.8L470.6,1159.8ZM466.1,1122.3L470.8,1122.3L471.9,1031.2L467.4,1027.1ZM472.3,992.5L467.7,992.5L467.4,1027.1L471.9,1031.2ZM467.7,992.5L472.3,992.5L478.7,908.7L475.3,904.8ZM482.6,862.6L479.2,862.6L475.3,904.8L478.7,908.7ZM479.2,862.6L482.6,862.6L489.2,795.2L486.9,790.9ZM504.4,732.7L502.1,732.7L486.9,790.9L489.2,795.2Z"/>
<path fill="#ffd900" stroke="#ffd900" d="M470.6,1252.2L475,1252.2L475,1164.2L470.6,1159.8ZM475.2,1122.3L470.8,1122.3L470.6,1159.8L475,1164.2ZM470.8,1122.3L475.2,1122.3L476.1,1035.5L471.9,1031.2ZM476.5,992.5L472.3,992.5L471.9,1031.2L476.1,1035.5ZM472.3,992.5L476.5,992.5L482,913L478.7,908.7ZM485.8,862.6L482.6,862.6L478.7,908.7L482,913ZM482.6,862.6L485.8,862.6L491.4,799.8L489.2,795.2ZM506.3,733.7L506.3,732.7L504.4,732.7L489.2,795.2L491.4,799.8ZM514,733.5L506.3,732.7L506.3,733.7ZM520.3,732.7L506.3,732.7L514,733.5Z"/>
<path fill="#ffc300" stroke="#ffc300" d="M475,1252.2L479,1252.2L479,1168.9L475,1164.2ZM479.2,1122.3L475.2,1122.3L475,1164.2L479,1168.9ZM475.2,1122.3L479.2,1122.3L480,1040.3L476.1,1035.5ZM480.4,992.5L476.5,992.5L476.1,1035.5L480,1040.3ZM476.5,992.5L480.4,992.5L485,917.6L482,913ZM488.9,862.6L485.8,862.6L482,913L485,917.6ZM485.8,862.6L488.9,862.6L493.5,804.9L491.4,799.8ZM506.3,740.6L506.3,733.7L491.4,799.8L493.5,804.9ZM549.3,739.2L514,733.5L506.3,733.7L506.3,740.6ZM572.1,732.7L520.3,732.7L514,733.5L549.3,739.2Z"/>
<path fill="#ffae00" stroke="#ffae00" d="M479,1252.2L482.8,1252.2L482.8,1174L479,1168.9ZM483,1122.3L479.2,1122.3L479,1168.9L482.8,1174ZM479.2,1122.3L483,1122.3L483.7,1045.4L480,1040.3ZM484,992.5L480.4,992.5L480,1040.3L483.7,1045.4ZM480.4,992.5L484,992.5L487.9,922.7L485,917.6ZM491.8,862.6L488.9,862.6L485,917.6L487.9,922.7ZM488.9,862.6L491.8,862.6L495.6,810.5L493.5,804.9ZM506.3,748.5L506.3,740.6L493.5,804.9L495.6,810.5ZM571.1,745.4L549.3,739.2L506.3,740.6L506.3,748.5ZM599.1,732.7L572.1,732.7L549.3,739.2L571.1,745.4Z"/>
<path fill="#ff9800" stroke="#ff9800" d="M482.8,1252.2L486.4,1252.2L486.4,1179.7L482.8,1174ZM486.6,1122.3L483,1122.3L482.8,1174L486.4,1179.7ZM483,1122.3L486.6,1122.3L487.1,1051.1L483.7,1045.4ZM487.5,992.5L484,992.5L483.7,1045.4L487.1,1051.1ZM484,992.5L487.5,992.5L490.7,928.2L487.9,922.7ZM494.6,862.6L491.8,862.6L487.9,922.7L490.7,928.2ZM491.8,862.6L494.6,862.6L497.6,816.7L495.6,810.5ZM506.3,757.6L506.3,748.5L495.6,810.5L497.6,816.7ZM587,752.5L571.1,745.4L506.3,748.5L506.3,757.6ZM617.6,732.7L599.1,732.7L571.1,745.4L587,752.5Z"/>
<path fill="#ff8200" stroke="#ff8200" d="M486.4,1252.2L489.8,1252.2L489.8,1186L486.4,1179.7ZM490,1122.3L486.6,1122.3L486.4,1179.7L489.8,1186ZM486.6,1122.3L490,1122.3L490.4,1057.4L487.1,1051.1ZM490.8,992.5L487.5,992.5L487.1,1051.1L490.4,1057.4ZM487.5,992.5L490.8,992.5L493.3,934.3L490.7,928.2ZM497.2,862.6L494.6,862.6L490.7,928.2L493.3,934.3ZM494.6,862.6L497.2,862.6L499.5,823.7L497.6,816.7ZM506.3,768.6L506.3,757.6L497.6,816.7L499.5,823.7ZM599.5,760.6L587,752.5L506.3,757.6L506.3,768.6ZM631.6,732.7L617.6,732.7L587,752.5L599.5,760.6Z"/>
<path fill="#ff6d00" stroke="#ff6d00" d="M489.8,1252.2L493,1252.2L493,1193.1L489.8,1186ZM493.2,1122.3L490,1122.3L489.8,1186L493,1193.1ZM490,1122.3L493.2,1122.3L493.5,1064.6L490.4,1057.4ZM493.8,992.5L490.8,992.5L490.4,1057.4L493.5,1064.6ZM490.8,992.5L493.8,992.5L495.9,941.2L493.3,934.3ZM499.8,862.6L497.2,862.6L493.3,934.3L495.9,941.2ZM497.2,862.6L499.8,862.6L501.4,831.6L499.5,823.7ZM506.3,782.1L506.3,768.6L499.5,823.7L501.4,831.6ZM609.8,770.1L599.5,760.6L506.3,768.6L506.3,782.1ZM641.3,734.4L641.3,732.7L631.6,732.7L599.5,760.6L609.8,770.1Z"/>
<path fill="#ff5700" stroke="#ff5700" d="M493,1252.2L496,1252.2L496,1201.2L493,1193.1ZM496.2,1122.3L493.2,1122.3L493,1193.1L496,1201.2ZM493.2,1122.3L496.2,1122.3L496.4,1072.7L493.5,1064.6ZM496.8,992.5L493.8,992.5L493.5,1064.6L496.4,1072.7ZM493.8,992.5L496.8,992.5L498.3,949L495.9,941.2ZM502.2,862.6L499.8,862.6L495.9,941.2L498.3,949ZM499.8,862.6L502.2,862.6L503.2,840.9L501.4,831.6ZM506.3,800.1L506.3,782.1L501.4,831.6L503.2,840.9ZM618.5,781.4L609.8,770.1L506.3,782.1L506.3,800.1ZM641.3,747.2L641.3,734.4L609.8,770.1L618.5,781.4Z"/>
<path fill="#ff4100" stroke="#ff4100" d="M496,1252.2L498.8,1252.2L498.8,1210.7L496,1201.2ZM499,1122.3L496.2,1122.3L496,1201.2L498.8,1210.7ZM496.2,1122.3L499,1122.3L499.2,1082.3L496.4,1072.7ZM499.6,992.5L496.8,992.5L496.4,1072.7L499.2,1082.3ZM496.8,992.5L499.6,992.5L500.6,958.1L498.3,949ZM504.5,862.6L502.2,862.6L498.3,949L500.6,958.1ZM502.2,862.6L504.5,862.6L504.9,852L503.2,840.9ZM506.3,826.5L506.3,800.1L503.2,840.9L504.9,852ZM626.2,795.6L618.5,781.4L506.3,800.1L506.3,826.5ZM641.3,763.8L641.3,747.2L618.5,781.4L626.2,795.6Z"/>
<path fill="#ff2b00" stroke="#ff2b00" d="M498.8,1252.2L501.6,1252.2L501.6,1222.2L498.8,1210.7ZM501.8,1122.3L499,1122.3L498.8,1210.7L501.6,1222.2ZM499,1122.3L501.8,1122.3L501.9,1093.7L499.2,1082.3ZM502.2,992.5L499.6,992.5L499.2,1082.3L501.9,1093.7ZM499.6,992.5L502.2,992.5L502.9,968.9L500.6,958.1ZM506.3,868.8L506.3,862.6L504.5,862.6L500.6,958.1L502.9,968.9ZM542.5,867.6L506.3,862.6L506.3,868.8ZM551.4,862.6L506.3,862.6L542.5,867.6ZM504.5,862.6L506.3,862.6L504.9,852ZM506.3,862.6L506.3,826.5L504.9,852ZM506.3,862.6L551.4,862.6L632.9,814.7L626.2,795.6L506.3,826.5ZM641.3,787.3L641.3,763.8L626.2,795.6L632.9,814.7Z"/>
<path fill="#ff1600" stroke="#ff1600" d="M501.6,1252.2L504.2,1252.2L504.2,1236.5L501.6,1222.2ZM504.4,1122.3L501.8,1122.3L501.6,1222.2L504.2,1236.5ZM501.8,1122.3L504.4,1122.3L504.4,1108.2L501.9,1093.7ZM504.8,992.5L502.2,992.5L501.9,1093.7L504.4,1108.2ZM502.2,992.5L504.8,992.5L505,982.4L502.9,968.9ZM506.3,914L506.3,868.8L502.9,968.9L505,982.4ZM610.6,900.9L542.5,867.6L506.3,868.8L506.3,914ZM625.8,862.6L551.4,862.6L542.5,867.6L610.6,900.9ZM551.4,862.6L625.8,862.6L638.9,843.8L632.9,814.7ZM641.3,828.6L641.3,787.3L632.9,814.7L638.9,843.8Z"/>
<path fill="#ff0000" stroke="#ff0000" d="M504.2,1252.2L506.3,1252.2L504.2,1236.5ZM506.3,1252.2L506.3,1122.3L504.4,1122.3L504.2,1236.5ZM506.3,1252.2L641.3,1252.2L506.3,1122.3ZM641.3,1252.2L641.3,1122.3L506.3,1122.3ZM504.4,1122.3L506.3,1122.3L504.4,1108.2ZM506.3,1122.3L506.3,992.5L504.8,992.5L504.4,1108.2ZM506.3,1122.3L641.3,1122.3L506.3,992.5ZM641.3,1122.3L641.3,992.5L506.3,992.5ZM504.8,992.5L506.3,992.5L505,982.4ZM506.3,992.5L506.3,914L505,982.4ZM506.3,992.5L641.3,992.5L610.6,900.9L506.3,914ZM641.3,992.5L641.3,862.6L625.8,862.6L610.6,900.9ZM625.8,862.6L641.3,862.6L638.9,843.8ZM641.3,862.6L641.3,828.6L638.9,843.8Z"/>
</g>
<g stroke="#454545" stroke-width="1.25" fill="none" stroke-opacity="0.9">
<path d="M168.2,1122.3L165.5,1005M165.5,1005L166.4,992.5" stroke-dasharray="28 22"/>
<path d="M166.4,992.5L114.2,864M114.2,864L117.5,862.6M117.5,862.6L101.3,847.3M200,992.5L185.5,884.4M185.5,884.4L197.3,862.6M236.3,736.3L292.6,733.5M292.6,733.5L302.6,732.7M220.7,1252.2L220.5,1183.8M236.3,805L411.7,743.3M411.7,743.3L426.4,732.7M404.4,862.6L448.3,755.2M448.3,755.2L463.4,732.7M453,862.6L470.7,770.3M470.7,770.3L485.9,732.7M479.2,862.6L486.9,790.9M486.9,790.9L502.1,732.7" stroke-dasharray="2.4 3"/>
<path d="M200.5,1252.2L200,1154.8M200,1154.8L200,1122.3M200,1122.3L198.9,1024M198.9,1024L200,992.5M276.8,992.5L400.7,871.2M400.7,871.2L404.4,862.6"/>
<path d="M197.3,862.6L101.3,771.3M236.3,736.3L232.7,732.7M229.9,862.6L101.3,740M236.3,805L166.9,732.7" stroke-dasharray="14 8"/>
<path d="M220.5,1122.3L220.1,1053.1M220.1,1053.1L221.3,992.5" stroke-dasharray="60 30"/>
<path d="M221.3,992.5L216.7,916.6M216.7,916.6L229.9,862.6" stroke-dasharray="3 3"/>
<path d="M235.6,1122.3L235.6,1116.2M235.6,1116.2L236.3,1021.3" stroke-dasharray="0 11 85 200"/>
<path d="M236.3,1021.3L276.6,993M276.6,993L276.8,992.5" stroke-dasharray="80 200"/>
<path d="M425,1252.2L425,1136.2M425,1136.2L425.1,1122.3" stroke-dasharray="0 105 30 200"/>
<path d="M425.1,1122.3L429,1007.5M429,1007.5L429.3,992.5" stroke-dasharray="20 15 25 15 25 15 15 12"/>
<path d="M429.3,992.5L449.2,885.5M449.2,885.5L453,862.6" stroke-dasharray="9 6"/>
<path d="M466.1,1122.3L467.4,1027.1M467.4,1027.1L467.7,992.5" stroke-dasharray="0 50 55 40"/>
<path d="M467.7,992.5L475.3,904.8M475.3,904.8L479.2,862.6" stroke-dasharray="7 6"/>
<path d="M490,1122.3L490.4,1057.4M490.4,1057.4L490.8,992.5" stroke-dasharray="0 30 90 40"/>
<path d="M490.8,992.5L493.3,934.3M493.3,934.3L497.2,862.6" stroke-dasharray="9 7"/>
<path d="M497.2,862.6L499.5,823.7M499.5,823.7L506.3,768.6M506.3,768.6L599.5,760.6M599.5,760.6L631.6,732.7" stroke-dasharray="8 7"/>
</g>
<rect x="101.3" y="732.7" width="540" height="519.5" fill="none" stroke="#000" stroke-width="2.4"/>
<path d="M101.3,1252.2v10M101.3,1252.2h-10M195.7,1252.2v5M101.3,1161.4h-5M236.3,1252.2v10M101.3,1122.3h-10M330.7,1252.2v5M101.3,1031.5h-5M371.3,1252.2v10M101.3,992.5h-10M465.7,1252.2v5M101.3,901.7h-5M506.3,1252.2v10M101.3,862.6h-10M600.7,1252.2v5M101.3,771.8h-5M641.3,1252.2v10M101.3,732.7h-10" stroke="#000" stroke-width="2.2" fill="none"/>
<text x="101.3" y="1292" font-size="22" text-anchor="middle" class="s">10<tspan dy="-9" font-size="15">15</tspan></text>
<text x="84.5" y="1261.1" font-size="22" text-anchor="end" class="s">10<tspan dy="-9" font-size="15">10</tspan></text>
<text x="236.3" y="1292" font-size="22" text-anchor="middle" class="s">10<tspan dy="-9" font-size="15">16</tspan></text>
<text x="84.5" y="1131.2" font-size="22" text-anchor="end" class="s">10<tspan dy="-9" font-size="15">11</tspan></text>
<text x="371.3" y="1292" font-size="22" text-anchor="middle" class="s">10<tspan dy="-9" font-size="15">17</tspan></text>
<text x="84.5" y="1001.4" font-size="22" text-anchor="end" class="s">10<tspan dy="-9" font-size="15">12</tspan></text>
<text x="506.3" y="1292" font-size="22" text-anchor="middle" class="s">10<tspan dy="-9" font-size="15">18</tspan></text>
<text x="84.5" y="871.5" font-size="22" text-anchor="end" class="s">10<tspan dy="-9" font-size="15">13</tspan></text>
<text x="641.3" y="1292" font-size="22" text-anchor="middle" class="s">10<tspan dy="-9" font-size="15">19</tspan></text>
<text x="84.5" y="741.6" font-size="22" text-anchor="end" class="s">10<tspan dy="-9" font-size="15">14</tspan></text>
<text x="158" y="1336" font-size="28" class="b" textLength="427" lengthAdjust="spacingAndGlyphs">Acceptor concentration, N<tspan dy="6" font-size="17" class="n">A</tspan><tspan dy="-6"> (cm</tspan><tspan dy="-13" font-size="16" class="n">-3</tspan><tspan dy="13">)</tspan></text>
<text transform="translate(30,1133) rotate(-90)" font-size="28" class="b" textLength="282" lengthAdjust="spacingAndGlyphs">Interface Defect (cm<tspan dy="-11" font-size="16" class="n">-2</tspan><tspan dy="11">)</tspan></text>
<text x="143" y="765.3" font-size="26" class="b">(c)</text>
<rect x="679.3" y="735.5" width="44.4" height="10.8" fill="#808080"/>
<rect x="679.3" y="746.30" width="44.4" height="499.20" fill="#ff0000"/>
<rect x="679.3" y="756.70" width="44.4" height="488.80" fill="#ff1600"/>
<rect x="679.3" y="767.10" width="44.4" height="478.40" fill="#ff2b00"/>
<rect x="679.3" y="777.50" width="44.4" height="468.00" fill="#ff4100"/>
<rect x="679.3" y="787.90" width="44.4" height="457.60" fill="#ff5700"/>
<rect x="679.3" y="798.30" width="44.4" height="447.20" fill="#ff6d00"/>
<rect x="679.3" y="808.70" width="44.4" height="436.80" fill="#ff8200"/>
<rect x="679.3" y="819.10" width="44.4" height="426.40" fill="#ff9800"/>
<rect x="679.3" y="829.50" width="44.4" height="416.00" fill="#ffae00"/>
<rect x="679.3" y="839.90" width="44.4" height="405.60" fill="#ffc300"/>
<rect x="679.3" y="850.30" width="44.4" height="395.20" fill="#ffd900"/>
<rect x="679.3" y="860.70" width="44.4" height="384.80" fill="#ffef00"/>
<rect x="679.3" y="871.10" width="44.4" height="374.40" fill="#faff00"/>
<rect x="679.3" y="881.50" width="44.4" height="364.00" fill="#e4ff00"/>
<rect x="679.3" y="891.90" width="44.4" height="353.60" fill="#ceff00"/>
<rect x="679.3" y="902.30" width="44.4" height="343.20" fill="#b8ff00"/>
<rect x="679.3" y="912.70" width="44.4" height="332.80" fill="#a3ff00"/>
<rect x="679.3" y="923.10" width="44.4" height="322.40" fill="#8dff00"/>
<rect x="679.3" y="933.50" width="44.4" height="312.00" fill="#77ff00"/>
<rect x="679.3" y="943.90" width="44.4" height="301.60" fill="#62ff00"/>
<rect x="679.3" y="954.30" width="44.4" height="291.20" fill="#4cff00"/>
<rect x="679.3" y="964.70" width="44.4" height="280.80" fill="#36ff00"/>
<rect x="679.3" y="975.10" width="44.4" height="270.40" fill="#21ff00"/>
<rect x="679.3" y="985.50" width="44.4" height="260.00" fill="#0bff00"/>
<rect x="679.3" y="995.90" width="44.4" height="249.60" fill="#00ff0b"/>
<rect x="679.3" y="1006.30" width="44.4" height="239.20" fill="#00ff21"/>
<rect x="679.3" y="1016.70" width="44.4" height="228.80" fill="#00ff36"/>
<rect x="679.3" y="1027.10" width="44.4" height="218.40" fill="#00ff4c"/>
<rect x="679.3" y="1037.50" width="44.4" height="208.00" fill="#00ff62"/>
<rect x="679.3" y="1047.90" width="44.4" height="197.60" fill="#00ff77"/>
<rect x="679.3" y="1058.30" width="44.4" height="187.20" fill="#00ff8d"/>
<rect x="679.3" y="1068.70" width="44.4" height="176.80" fill="#00ffa3"/>
<rect x="679.3" y="1079.10" width="44.4" height="166.40" fill="#00ffb8"/>
<rect x="679.3" y="1089.50" width="44.4" height="156.00" fill="#00ffce"/>
<rect x="679.3" y="1099.90" width="44.4" height="145.60" fill="#00ffe4"/>
<rect x="679.3" y="1110.30" width="44.4" height="135.20" fill="#00fffa"/>
<rect x="679.3" y="1120.70" width="44.4" height="124.80" fill="#00efff"/>
<rect x="679.3" y="1131.10" width="44.4" height="114.40" fill="#00d9ff"/>
<rect x="679.3" y="1141.50" width="44.4" height="104.00" fill="#00c3ff"/>
<rect x="679.3" y="1151.90" width="44.4" height="93.60" fill="#00aeff"/>
<rect x="679.3" y="1162.30" width="44.4" height="83.20" fill="#0098ff"/>
<rect x="679.3" y="1172.70" width="44.4" height="72.80" fill="#0082ff"/>
<rect x="679.3" y="1183.10" width="44.4" height="62.40" fill="#006dff"/>
<rect x="679.3" y="1193.50" width="44.4" height="52.00" fill="#0057ff"/>
<rect x="679.3" y="1203.90" width="44.4" height="41.60" fill="#0041ff"/>
<rect x="679.3" y="1214.30" width="44.4" height="31.20" fill="#002bff"/>
<rect x="679.3" y="1224.70" width="44.4" height="20.80" fill="#0016ff"/>
<rect x="679.3" y="1235.10" width="44.4" height="10.40" fill="#0000ff"/>
<rect x="679.3" y="1245.5" width="44.4" height="10.5" fill="#000000"/>
<rect x="679.3" y="735.5" width="44.4" height="520.5" fill="none" stroke="#2a2a2a" stroke-width="1.4"/>
<path d="M723.7,1245.50h10M723.7,1183.10h10M723.7,1120.70h10M723.7,1058.30h10M723.7,995.90h10M723.7,933.50h10M723.7,871.10h10M723.7,808.70h10M723.7,746.30h10" stroke="#222" stroke-width="1.6" fill="none"/>
<text x="740" y="1251.2" font-size="16.6" class="b">77.58</text>
<text x="740" y="1188.8" font-size="16.6" class="b">78.56</text>
<text x="740" y="1126.4" font-size="16.6" class="b">79.53</text>
<text x="740" y="1064.0" font-size="16.6" class="b">80.51</text>
<text x="740" y="1001.6" font-size="16.6" class="b">81.48</text>
<text x="740" y="939.2" font-size="16.6" class="b">82.45</text>
<text x="740" y="876.8" font-size="16.6" class="b">83.43</text>
<text x="740" y="814.4" font-size="16.6" class="b">84.41</text>
<text x="740" y="752.0" font-size="16.6" class="b">85.38</text>
<text x="666" y="718" font-size="27" class="b" textLength="72" lengthAdjust="spacingAndGlyphs">FF(%)</text>
</g>
<g>
<g stroke-width="0.7" stroke-linejoin="round">
<path fill="#00aeff" stroke="#00aeff" d="M960.5,1249.4L974,1249.4L973,1117L960.5,1115.7ZM973,1115.7L960.5,1115.7L973,1117ZM960.5,1115.7L973,1115.7L976.4,983.7L960.5,981.9ZM977.1,981.9L960.5,981.9L976.4,983.7ZM960.5,981.9L977.1,981.9L1008.9,855.8L974.2,849.6L960.5,864.2ZM1029.5,848.1L982.6,848.1L974.2,849.6L1008.9,855.8ZM982.6,848.1L1029.5,848.1L1070.7,757.2L1060.8,746.8ZM1099.4,770.6L1099.4,760.9L1060.8,746.8L1070.7,757.2ZM1293,728.5L1286.1,726.8L1099.4,760.9L1099.4,770.6ZM1309.2,714.4L1302.3,714.4L1286.1,726.8L1293,728.5Z"/>
<path fill="#00c3ff" stroke="#00c3ff" d="M974,1249.4L1010.6,1249.4L1010.1,1123.6L973,1117ZM1010.1,1115.7L973,1115.7L973,1117L1010.1,1123.6ZM973,1115.7L1010.1,1115.7L1011.8,990.3L976.4,983.7ZM1013.5,981.9L977.1,981.9L976.4,983.7L1011.8,990.3ZM977.1,981.9L1013.5,981.9L1030.8,862.6L1008.9,855.8ZM1055.6,848.1L1029.5,848.1L1008.9,855.8L1030.8,862.6ZM1029.5,848.1L1055.6,848.1L1079.2,769.8L1070.7,757.2ZM1099.4,782.3L1099.4,770.6L1070.7,757.2L1079.2,769.8ZM1299.1,730.3L1293,728.5L1099.4,770.6L1099.4,782.3ZM1315.4,714.4L1309.2,714.4L1293,728.5L1299.1,730.3Z"/>
<path fill="#00d9ff" stroke="#00d9ff" d="M1010.6,1249.4L1033.2,1249.4L1032.9,1131L1010.1,1123.6ZM1033,1115.7L1010.1,1115.7L1010.1,1123.6L1032.9,1131ZM1010.1,1115.7L1033,1115.7L1033.9,997.7L1011.8,990.3ZM1036.1,981.9L1013.5,981.9L1011.8,990.3L1033.9,997.7ZM1013.5,981.9L1036.1,981.9L1046.9,870.4L1030.8,862.6ZM1073.8,848.1L1055.6,848.1L1030.8,862.6L1046.9,870.4ZM1055.6,848.1L1073.8,848.1L1086.6,786.1L1079.2,769.8ZM1099.4,797L1099.4,782.3L1079.2,769.8L1086.6,786.1ZM1304.7,732.2L1299.1,730.3L1099.4,782.3L1099.4,797ZM1321,714.4L1315.4,714.4L1299.1,730.3L1304.7,732.2Z"/>
<path fill="#00efff" stroke="#00efff" d="M1033.2,1249.4L1049.6,1249.4L1049.4,1139.5L1032.9,1131ZM1049.5,1115.7L1033,1115.7L1032.9,1131L1049.4,1139.5ZM1033,1115.7L1049.5,1115.7L1050.1,1006.2L1033.9,997.7ZM1052.5,981.9L1036.1,981.9L1033.9,997.7L1050.1,1006.2ZM1036.1,981.9L1052.5,981.9L1059.5,879.4L1046.9,870.4ZM1087.7,848.1L1073.8,848.1L1046.9,870.4L1059.5,879.4ZM1073.8,848.1L1087.7,848.1L1093.2,808.6L1086.6,786.1ZM1099.4,816.6L1099.4,797L1086.6,786.1L1093.2,808.6ZM1309.8,734.1L1304.7,732.2L1099.4,797L1099.4,816.6ZM1326.2,714.4L1321,714.4L1304.7,732.2L1309.8,734.1Z"/>
<path fill="#00fffa" stroke="#00fffa" d="M1049.6,1249.4L1062.5,1249.4L1062.4,1149.4L1049.4,1139.5ZM1062.4,1115.7L1049.5,1115.7L1049.4,1139.5L1062.4,1149.4ZM1049.5,1115.7L1062.4,1115.7L1062.8,1016.1L1050.1,1006.2ZM1065.4,981.9L1052.5,981.9L1050.1,1006.2L1062.8,1016.1ZM1052.5,981.9L1065.4,981.9L1070,890.1L1059.5,879.4ZM1099,848.1L1087.7,848.1L1059.5,879.4L1070,890.1ZM1087.7,848.1L1099,848.1L1099.2,846L1093.2,808.6ZM1099.4,846.6L1099.4,816.6L1093.2,808.6L1099.2,846ZM1314.5,736.1L1309.8,734.1L1099.4,816.6L1099.4,846.6ZM1330.9,714.4L1326.2,714.4L1309.8,734.1L1314.5,736.1Z"/>
<path fill="#00ffe4" stroke="#00ffe4" d="M1062.5,1249.4L1073.1,1249.4L1073,1161.5L1062.4,1149.4ZM1073.1,1115.7L1062.4,1115.7L1062.4,1149.4L1073,1161.5ZM1062.4,1115.7L1073.1,1115.7L1073.4,1028.2L1062.8,1016.1ZM1076,981.9L1065.4,981.9L1062.8,1016.1L1073.4,1028.2ZM1065.4,981.9L1076,981.9L1078.9,903.1L1070,890.1ZM1099.4,862.7L1099.4,848.1L1099,848.1L1070,890.1L1078.9,903.1ZM1191.2,850.1L1099.4,848.1L1099.4,862.7ZM1195.3,848.1L1099.4,848.1L1191.2,850.1ZM1099,848.1L1099.4,848.1L1099.2,846ZM1099.4,848.1L1099.4,846.6L1099.2,846ZM1099.4,848.1L1195.3,848.1L1318.9,738.2L1314.5,736.1L1099.4,846.6ZM1335.3,714.4L1330.9,714.4L1314.5,736.1L1318.9,738.2Z"/>
<path fill="#00ffce" stroke="#00ffce" d="M1073.1,1249.4L1082.1,1249.4L1082.1,1176.7L1073,1161.5ZM1082.1,1115.7L1073.1,1115.7L1073,1161.5L1082.1,1176.7ZM1073.1,1115.7L1082.1,1115.7L1082.3,1043.4L1073.4,1028.2ZM1085,981.9L1076,981.9L1073.4,1028.2L1082.3,1043.4ZM1076,981.9L1085,981.9L1086.7,919.9L1078.9,903.1ZM1099.4,883L1099.4,862.7L1078.9,903.1L1086.7,919.9ZM1227.2,852.1L1191.2,850.1L1099.4,862.7L1099.4,883ZM1231.8,848.1L1195.3,848.1L1191.2,850.1L1227.2,852.1ZM1195.3,848.1L1231.8,848.1L1322.9,740.3L1318.9,738.2ZM1339.4,714.4L1335.3,714.4L1318.9,738.2L1322.9,740.3Z"/>
<path fill="#00ffb8" stroke="#00ffb8" d="M1082.1,1249.4L1090,1249.4L1090,1197.3L1082.1,1176.7ZM1090,1115.7L1082.1,1115.7L1082.1,1176.7L1090,1197.3ZM1082.1,1115.7L1090,1115.7L1090.1,1064L1082.3,1043.4ZM1092.8,981.9L1085,981.9L1082.3,1043.4L1090.1,1064ZM1085,981.9L1092.8,981.9L1093.5,943.8L1086.7,919.9ZM1099.4,914.6L1099.4,883L1086.7,919.9L1093.5,943.8ZM1249.5,854.3L1227.2,852.1L1099.4,883L1099.4,914.6ZM1254.3,848.1L1231.8,848.1L1227.2,852.1L1249.5,854.3ZM1231.8,848.1L1254.3,848.1L1326.7,742.6L1322.9,740.3ZM1343.2,714.4L1339.4,714.4L1322.9,740.3L1326.7,742.6Z"/>
<path fill="#00ffa3" stroke="#00ffa3" d="M1090,1249.4L1096.9,1249.4L1096.9,1229.5L1090,1197.3ZM1097,1115.7L1090,1115.7L1090,1197.3L1096.9,1229.5ZM1090,1115.7L1097,1115.7L1097,1096.3L1090.1,1064ZM1099.4,988.3L1099.4,981.9L1092.8,981.9L1090.1,1064L1097,1096.3ZM1111.3,982L1099.4,981.9L1099.4,988.3ZM1111.4,981.9L1099.4,981.9L1111.3,982ZM1092.8,981.9L1099.4,981.9L1093.5,943.8ZM1099.4,981.9L1099.4,914.6L1093.5,943.8ZM1099.4,981.9L1111.4,981.9L1265.8,856.5L1249.5,854.3L1099.4,914.6ZM1270.7,848.1L1254.3,848.1L1249.5,854.3L1265.8,856.5ZM1254.3,848.1L1270.7,848.1L1330.3,744.9L1326.7,742.6ZM1346.9,714.4L1343.2,714.4L1326.7,742.6L1330.3,744.9Z"/>
<path fill="#00ff8d" stroke="#00ff8d" d="M1096.9,1249.4L1099.4,1249.4L1096.9,1229.5ZM1099.4,1249.4L1099.4,1115.7L1097,1115.7L1096.9,1229.5ZM1099.4,1249.4L1178.1,1249.4L1178.8,1117.1L1099.4,1115.7ZM1179.1,1115.7L1099.4,1115.7L1178.8,1117.1ZM1097,1115.7L1099.4,1115.7L1097,1096.3ZM1099.4,1115.7L1099.4,988.3L1097,1096.3ZM1099.4,1115.7L1179.1,1115.7L1202.9,984.4L1111.3,982L1099.4,988.3ZM1203.3,981.9L1111.4,981.9L1111.3,982L1202.9,984.4ZM1111.4,981.9L1203.3,981.9L1278.6,858.8L1265.8,856.5ZM1283.6,848.1L1270.7,848.1L1265.8,856.5L1278.6,858.8ZM1270.7,848.1L1283.6,848.1L1333.7,747.3L1330.3,744.9ZM1350.3,714.4L1346.9,714.4L1330.3,744.9L1333.7,747.3Z"/>
<path fill="#00ff77" stroke="#00ff77" d="M1178.1,1249.4L1225.5,1249.4L1225.8,1119.5L1178.8,1117.1ZM1226.2,1115.7L1179.1,1115.7L1178.8,1117.1L1225.8,1119.5ZM1179.1,1115.7L1226.2,1115.7L1237.8,986.8L1202.9,984.4ZM1238.1,981.9L1203.3,981.9L1202.9,984.4L1237.8,986.8ZM1203.3,981.9L1238.1,981.9L1289.2,861.3L1278.6,858.8ZM1294.2,848.1L1283.6,848.1L1278.6,858.8L1289.2,861.3ZM1283.6,848.1L1294.2,848.1L1336.9,749.8L1333.7,747.3ZM1353.5,714.4L1350.3,714.4L1333.7,747.3L1336.9,749.8Z"/>
<path fill="#00ff62" stroke="#00ff62" d="M1225.5,1249.4L1251.8,1249.4L1251.9,1122.1L1225.8,1119.5ZM1252.3,1115.7L1226.2,1115.7L1225.8,1119.5L1251.9,1122.1ZM1226.2,1115.7L1252.3,1115.7L1259.7,989.4L1237.8,986.8ZM1260.1,981.9L1238.1,981.9L1237.8,986.8L1259.7,989.4ZM1238.1,981.9L1260.1,981.9L1298.2,863.8L1289.2,861.3ZM1303.2,848.1L1294.2,848.1L1289.2,861.3L1298.2,863.8ZM1294.2,848.1L1303.2,848.1L1340,752.5L1336.9,749.8ZM1356.5,714.4L1353.5,714.4L1336.9,749.8L1340,752.5Z"/>
<path fill="#00ff4c" stroke="#00ff4c" d="M1251.8,1249.4L1270,1249.4L1270.1,1124.7L1251.9,1122.1ZM1270.4,1115.7L1252.3,1115.7L1251.9,1122.1L1270.1,1124.7ZM1252.3,1115.7L1270.4,1115.7L1275.7,992L1259.7,989.4ZM1276.1,981.9L1260.1,981.9L1259.7,989.4L1275.7,992ZM1260.1,981.9L1276.1,981.9L1306,866.4L1298.2,863.8ZM1311,848.1L1303.2,848.1L1298.2,863.8L1306,866.4ZM1303.2,848.1L1311,848.1L1342.9,755.2L1340,752.5ZM1359.4,714.4L1356.5,714.4L1340,752.5L1342.9,755.2Z"/>
<path fill="#00ff36" stroke="#00ff36" d="M1270,1249.4L1284,1249.4L1284,1127.5L1270.1,1124.7ZM1284.4,1115.7L1270.4,1115.7L1270.1,1124.7L1284,1127.5ZM1270.4,1115.7L1284.4,1115.7L1288.4,994.8L1275.7,992ZM1288.8,981.9L1276.1,981.9L1275.7,992L1288.4,994.8ZM1276.1,981.9L1288.8,981.9L1312.9,869.2L1306,866.4ZM1318,848.1L1311,848.1L1306,866.4L1312.9,869.2ZM1311,848.1L1318,848.1L1345.6,758.1L1342.9,755.2ZM1362.2,714.4L1359.4,714.4L1342.9,755.2L1345.6,758.1Z"/>
<path fill="#00ff21" stroke="#00ff21" d="M1284,1249.4L1295.3,1249.4L1295.4,1130.4L1284,1127.5ZM1295.7,1115.7L1284.4,1115.7L1284,1127.5L1295.4,1130.4ZM1284.4,1115.7L1295.7,1115.7L1298.9,997.8L1288.4,994.8ZM1299.3,981.9L1288.8,981.9L1288.4,994.8L1298.9,997.8ZM1288.8,981.9L1299.3,981.9L1319.1,872.1L1312.9,869.2ZM1324.2,848.1L1318,848.1L1312.9,869.2L1319.1,872.1ZM1318,848.1L1324.2,848.1L1348.3,761.2L1345.6,758.1ZM1364.9,714.4L1362.2,714.4L1345.6,758.1L1348.3,761.2Z"/>
<path fill="#00ff0b" stroke="#00ff0b" d="M1295.3,1249.4L1304.8,1249.4L1304.9,1133.5L1295.4,1130.4ZM1305.2,1115.7L1295.7,1115.7L1295.4,1130.4L1304.9,1133.5ZM1295.7,1115.7L1305.2,1115.7L1307.8,1000.8L1298.9,997.8ZM1308.2,981.9L1299.3,981.9L1298.9,997.8L1307.8,1000.8ZM1299.3,981.9L1308.2,981.9L1324.7,875.1L1319.1,872.1ZM1329.8,848.1L1324.2,848.1L1319.1,872.1L1324.7,875.1ZM1324.2,848.1L1329.8,848.1L1350.8,764.4L1348.3,761.2ZM1367.4,714.4L1364.9,714.4L1348.3,761.2L1350.8,764.4Z"/>
<path fill="#0bff00" stroke="#0bff00" d="M1304.8,1249.4L1313.1,1249.4L1313.1,1136.8L1304.9,1133.5ZM1313.5,1115.7L1305.2,1115.7L1304.9,1133.5L1313.1,1136.8ZM1305.2,1115.7L1313.5,1115.7L1315.6,1004.1L1307.8,1000.8ZM1316,981.9L1308.2,981.9L1307.8,1000.8L1315.6,1004.1ZM1308.2,981.9L1316,981.9L1329.9,878.3L1324.7,875.1ZM1335,848.1L1329.8,848.1L1324.7,875.1L1329.9,878.3ZM1329.8,848.1L1335,848.1L1353.2,767.8L1350.8,764.4ZM1369.9,714.4L1367.4,714.4L1350.8,764.4L1353.2,767.8Z"/>
<path fill="#21ff00" stroke="#21ff00" d="M1313.1,1249.4L1320.3,1249.4L1320.4,1140.2L1313.1,1136.8ZM1320.7,1115.7L1313.5,1115.7L1313.1,1136.8L1320.4,1140.2ZM1313.5,1115.7L1320.7,1115.7L1322.4,1007.6L1315.6,1004.1ZM1322.9,981.9L1316,981.9L1315.6,1004.1L1322.4,1007.6ZM1316,981.9L1322.9,981.9L1334.6,881.8L1329.9,878.3ZM1339.7,848.1L1335,848.1L1329.9,878.3L1334.6,881.8ZM1335,848.1L1339.7,848.1L1355.6,771.4L1353.2,767.8ZM1372.2,714.4L1369.9,714.4L1353.2,767.8L1355.6,771.4Z"/>
<path fill="#36ff00" stroke="#36ff00" d="M1320.3,1249.4L1326.8,1249.4L1326.8,1143.9L1320.4,1140.2ZM1327.2,1115.7L1320.7,1115.7L1320.4,1140.2L1326.8,1143.9ZM1320.7,1115.7L1327.2,1115.7L1328.6,1011.3L1322.4,1007.6ZM1329,981.9L1322.9,981.9L1322.4,1007.6L1328.6,1011.3ZM1322.9,981.9L1329,981.9L1339,885.4L1334.6,881.8ZM1344.1,848.1L1339.7,848.1L1334.6,881.8L1339,885.4ZM1339.7,848.1L1344.1,848.1L1357.8,775.3L1355.6,771.4ZM1374.5,714.4L1372.2,714.4L1355.6,771.4L1357.8,775.3Z"/>
<path fill="#4cff00" stroke="#4cff00" d="M1326.8,1249.4L1332.6,1249.4L1332.6,1147.8L1326.8,1143.9ZM1333,1115.7L1327.2,1115.7L1326.8,1143.9L1332.6,1147.8ZM1327.2,1115.7L1333,1115.7L1334.2,1015.2L1328.6,1011.3ZM1334.6,981.9L1329,981.9L1328.6,1011.3L1334.2,1015.2ZM1329,981.9L1334.6,981.9L1343.1,889.2L1339,885.4ZM1348.2,848.1L1344.1,848.1L1339,885.4L1343.1,889.2ZM1344.1,848.1L1348.2,848.1L1360,779.4L1357.8,775.3ZM1376.6,714.4L1374.5,714.4L1357.8,775.3L1360,779.4Z"/>
<path fill="#62ff00" stroke="#62ff00" d="M1332.6,1249.4L1337.9,1249.4L1338,1152L1332.6,1147.8ZM1338.3,1115.7L1333,1115.7L1332.6,1147.8L1338,1152ZM1333,1115.7L1338.3,1115.7L1339.3,1019.4L1334.2,1015.2ZM1339.8,981.9L1334.6,981.9L1334.2,1015.2L1339.3,1019.4ZM1334.6,981.9L1339.8,981.9L1347,893.4L1343.1,889.2ZM1352.1,848.1L1348.2,848.1L1343.1,889.2L1347,893.4ZM1348.2,848.1L1352.1,848.1L1362.1,783.9L1360,779.4ZM1377.3,718.6L1377.3,714.4L1376.6,714.4L1360,779.4L1362.1,783.9ZM1395.1,716.4L1377.3,714.4L1377.3,718.6ZM1403.3,714.4L1377.3,714.4L1395.1,716.4Z"/>
<path fill="#77ff00" stroke="#77ff00" d="M1337.9,1249.4L1342.8,1249.4L1342.9,1156.5L1338,1152ZM1343.2,1115.7L1338.3,1115.7L1338,1152L1342.9,1156.5ZM1338.3,1115.7L1343.2,1115.7L1344.1,1023.9L1339.3,1019.4ZM1344.5,981.9L1339.8,981.9L1339.3,1019.4L1344.1,1023.9ZM1339.8,981.9L1344.5,981.9L1350.6,897.8L1347,893.4ZM1355.7,848.1L1352.1,848.1L1347,893.4L1350.6,897.8ZM1352.1,848.1L1355.7,848.1L1364.1,788.7L1362.1,783.9ZM1377.3,725.1L1377.3,718.6L1362.1,783.9L1364.1,788.7ZM1413.8,719.5L1395.1,716.4L1377.3,718.6L1377.3,725.1ZM1427.7,714.4L1403.3,714.4L1395.1,716.4L1413.8,719.5Z"/>
<path fill="#8dff00" stroke="#8dff00" d="M1342.8,1249.4L1347.4,1249.4L1347.4,1161.4L1342.9,1156.5ZM1347.7,1115.7L1343.2,1115.7L1342.9,1156.5L1347.4,1161.4ZM1343.2,1115.7L1347.7,1115.7L1348.4,1028.9L1344.1,1023.9ZM1348.9,981.9L1344.5,981.9L1344.1,1023.9L1348.4,1028.9ZM1344.5,981.9L1348.9,981.9L1354,902.7L1350.6,897.8ZM1359.1,848.1L1355.7,848.1L1350.6,897.8L1354,902.7ZM1355.7,848.1L1359.1,848.1L1366.1,794L1364.1,788.7ZM1377.3,732.4L1377.3,725.1L1364.1,788.7L1366.1,794ZM1428.1,722.6L1413.8,719.5L1377.3,725.1L1377.3,732.4ZM1445.1,714.4L1427.7,714.4L1413.8,719.5L1428.1,722.6Z"/>
<path fill="#a3ff00" stroke="#a3ff00" d="M1347.4,1249.4L1351.6,1249.4L1351.6,1166.7L1347.4,1161.4ZM1351.9,1115.7L1347.7,1115.7L1347.4,1161.4L1351.6,1166.7ZM1347.7,1115.7L1351.9,1115.7L1352.5,1034.3L1348.4,1028.9ZM1352.9,981.9L1348.9,981.9L1348.4,1028.9L1352.5,1034.3ZM1348.9,981.9L1352.9,981.9L1357.2,907.9L1354,902.7ZM1362.3,848.1L1359.1,848.1L1354,902.7L1357.2,907.9ZM1359.1,848.1L1362.3,848.1L1368,799.7L1366.1,794ZM1377.3,740.9L1377.3,732.4L1366.1,794L1368,799.7ZM1439.7,726L1428.1,722.6L1377.3,732.4L1377.3,740.9ZM1458.5,714.4L1445.1,714.4L1428.1,722.6L1439.7,726Z"/>
<path fill="#b8ff00" stroke="#b8ff00" d="M1351.6,1249.4L1355.5,1249.4L1355.5,1172.6L1351.6,1166.7ZM1355.9,1115.7L1351.9,1115.7L1351.6,1166.7L1355.5,1172.6ZM1351.9,1115.7L1355.9,1115.7L1356.3,1040.2L1352.5,1034.3ZM1356.8,981.9L1352.9,981.9L1352.5,1034.3L1356.3,1040.2ZM1352.9,981.9L1356.8,981.9L1360.3,913.7L1357.2,907.9ZM1365.4,848.1L1362.3,848.1L1357.2,907.9L1360.3,913.7ZM1362.3,848.1L1365.4,848.1L1369.8,806.2L1368,799.7ZM1377.3,750.7L1377.3,740.9L1368,799.7L1369.8,806.2ZM1449.4,729.6L1439.7,726L1377.3,740.9L1377.3,750.7ZM1469.6,714.4L1458.5,714.4L1439.7,726L1449.4,729.6Z"/>
<path fill="#ceff00" stroke="#ceff00" d="M1355.5,1249.4L1359.2,1249.4L1359.2,1179.1L1355.5,1172.6ZM1359.6,1115.7L1355.9,1115.7L1355.5,1172.6L1359.2,1179.1ZM1355.9,1115.7L1359.6,1115.7L1359.9,1046.8L1356.3,1040.2ZM1360.4,981.9L1356.8,981.9L1356.3,1040.2L1359.9,1046.8ZM1356.8,981.9L1360.4,981.9L1363.2,920.2L1360.3,913.7ZM1368.3,848.1L1365.4,848.1L1360.3,913.7L1363.2,920.2ZM1365.4,848.1L1368.3,848.1L1371.6,813.4L1369.8,806.2ZM1377.3,762.6L1377.3,750.7L1369.8,806.2L1371.6,813.4ZM1457.7,733.4L1449.4,729.6L1377.3,750.7L1377.3,762.6ZM1478.9,714.4L1469.6,714.4L1449.4,729.6L1457.7,733.4Z"/>
<path fill="#e4ff00" stroke="#e4ff00" d="M1359.2,1249.4L1362.7,1249.4L1362.7,1186.5L1359.2,1179.1ZM1363,1115.7L1359.6,1115.7L1359.2,1179.1L1362.7,1186.5ZM1359.6,1115.7L1363,1115.7L1363.3,1054.3L1359.9,1046.8ZM1363.8,981.9L1360.4,981.9L1359.9,1046.8L1363.3,1054.3ZM1360.4,981.9L1363.8,981.9L1365.9,927.4L1363.2,920.2ZM1371.1,848.1L1368.3,848.1L1363.2,920.2L1365.9,927.4ZM1368.3,848.1L1371.1,848.1L1373.3,821.6L1371.6,813.4ZM1377.3,777.5L1377.3,762.6L1371.6,813.4L1373.3,821.6ZM1465,737.5L1457.7,733.4L1377.3,762.6L1377.3,777.5ZM1486.9,714.4L1478.9,714.4L1457.7,733.4L1465,737.5Z"/>
<path fill="#faff00" stroke="#faff00" d="M1362.7,1249.4L1366,1249.4L1366,1195L1362.7,1186.5ZM1366.3,1115.7L1363,1115.7L1362.7,1186.5L1366,1195ZM1363,1115.7L1366.3,1115.7L1366.6,1062.9L1363.3,1054.3ZM1367,981.9L1363.8,981.9L1363.3,1054.3L1366.6,1062.9ZM1363.8,981.9L1367,981.9L1368.6,935.7L1365.9,927.4ZM1373.7,848.1L1371.1,848.1L1365.9,927.4L1368.6,935.7ZM1371.1,848.1L1373.7,848.1L1375,831.3L1373.3,821.6ZM1377.3,797.7L1377.3,777.5L1373.3,821.6L1375,831.3ZM1471.6,741.9L1465,737.5L1377.3,777.5L1377.3,797.7ZM1494,714.4L1486.9,714.4L1465,737.5L1471.6,741.9Z"/>
<path fill="#ffef00" stroke="#ffef00" d="M1366,1249.4L1369.1,1249.4L1369.1,1204.9L1366,1195ZM1369.4,1115.7L1366.3,1115.7L1366,1195L1369.1,1204.9ZM1366.3,1115.7L1369.4,1115.7L1369.6,1073L1366.6,1062.9ZM1370,981.9L1367,981.9L1366.6,1062.9L1369.6,1073ZM1367,981.9L1370,981.9L1371.1,945.3L1368.6,935.7ZM1376.3,848.1L1373.7,848.1L1368.6,935.7L1371.1,945.3ZM1373.7,848.1L1376.3,848.1L1376.6,842.8L1375,831.3ZM1377.3,828.8L1377.3,797.7L1375,831.3L1376.6,842.8ZM1477.5,746.7L1471.6,741.9L1377.3,797.7L1377.3,828.8ZM1500.4,714.4L1494,714.4L1471.6,741.9L1477.5,746.7Z"/>
<path fill="#ffd900" stroke="#ffd900" d="M1369.1,1249.4L1372.1,1249.4L1372.1,1216.8L1369.1,1204.9ZM1372.4,1115.7L1369.4,1115.7L1369.1,1204.9L1372.1,1216.8ZM1369.4,1115.7L1372.4,1115.7L1372.5,1085.1L1369.6,1073ZM1372.9,981.9L1370,981.9L1369.6,1073L1372.5,1085.1ZM1370,981.9L1372.9,981.9L1373.6,956.9L1371.1,945.3ZM1377.3,864.6L1377.3,848.1L1376.3,848.1L1371.1,945.3L1373.6,956.9ZM1402.1,851.2L1377.3,848.1L1377.3,864.6ZM1405,848.1L1377.3,848.1L1402.1,851.2ZM1376.3,848.1L1377.3,848.1L1376.6,842.8ZM1377.3,848.1L1377.3,828.8L1376.6,842.8ZM1377.3,848.1L1405,848.1L1482.8,751.9L1477.5,746.7L1377.3,828.8ZM1506.1,714.4L1500.4,714.4L1477.5,746.7L1482.8,751.9Z"/>
<path fill="#ffc300" stroke="#ffc300" d="M1372.1,1249.4L1374.9,1249.4L1374.9,1231.9L1372.1,1216.8ZM1375.2,1115.7L1372.4,1115.7L1372.1,1216.8L1374.9,1231.9ZM1372.4,1115.7L1375.2,1115.7L1375.3,1100.6L1372.5,1085.1ZM1375.7,981.9L1372.9,981.9L1372.5,1085.1L1375.3,1100.6ZM1372.9,981.9L1375.7,981.9L1375.9,971.3L1373.6,956.9ZM1377.3,910.4L1377.3,864.6L1373.6,956.9L1375.9,971.3ZM1429,856.6L1402.1,851.2L1377.3,864.6L1377.3,910.4ZM1433.8,848.1L1405,848.1L1402.1,851.2L1429,856.6ZM1405,848.1L1433.8,848.1L1487.8,757.5L1482.8,751.9ZM1511.4,714.4L1506.1,714.4L1482.8,751.9L1487.8,757.5Z"/>
<path fill="#ffae00" stroke="#ffae00" d="M1374.9,1249.4L1377.3,1249.4L1374.9,1231.9ZM1377.3,1249.4L1377.3,1115.7L1375.2,1115.7L1374.9,1231.9ZM1377.3,1249.4L1384.8,1249.4L1391.8,1117.3L1377.3,1115.7ZM1391.8,1115.7L1377.3,1115.7L1391.8,1117.3ZM1375.2,1115.7L1377.3,1115.7L1375.3,1100.6ZM1377.3,1115.7L1377.3,981.9L1375.7,981.9L1375.3,1100.6ZM1377.3,1115.7L1391.8,1115.7L1399.2,984.5L1377.3,981.9ZM1399.2,981.9L1377.3,981.9L1399.2,984.5ZM1375.7,981.9L1377.3,981.9L1375.9,971.3ZM1377.3,981.9L1377.3,910.4L1375.9,971.3ZM1377.3,981.9L1399.2,981.9L1447.6,862.6L1429,856.6L1377.3,910.4ZM1453.3,848.1L1433.8,848.1L1429,856.6L1447.6,862.6ZM1433.8,848.1L1453.3,848.1L1492.3,763.9L1487.8,757.5ZM1516.2,714.4L1516.2,714.4L1511.4,714.4L1487.8,757.5L1492.3,763.9Z"/>
<path fill="#ff9800" stroke="#ff9800" d="M1384.8,1249.4L1426,1249.4L1429.2,1124.2L1391.8,1117.3ZM1429.2,1115.7L1391.8,1115.7L1391.8,1117.3L1429.2,1124.2ZM1391.8,1115.7L1429.2,1115.7L1432.8,991.4L1399.2,984.5ZM1432.8,981.9L1399.2,981.9L1399.2,984.5L1432.8,991.4ZM1399.2,981.9L1432.8,981.9L1461.8,869.3L1447.6,862.6ZM1468,848.1L1453.3,848.1L1447.6,862.6L1461.8,869.3ZM1453.3,848.1L1468,848.1L1496.6,770.9L1492.3,763.9ZM1516.2,722.8L1516.2,714.4L1516.2,714.4L1492.3,763.9L1496.6,770.9Z"/>
<path fill="#ff8200" stroke="#ff8200" d="M1426,1249.4L1450.2,1249.4L1452.1,1132L1429.2,1124.2ZM1452.1,1115.7L1429.2,1115.7L1429.2,1124.2L1452.1,1132ZM1429.2,1115.7L1452.1,1115.7L1454.2,999.2L1432.8,991.4ZM1454.2,981.9L1432.8,981.9L1432.8,991.4L1454.2,999.2ZM1432.8,981.9L1454.2,981.9L1473.2,876.9L1461.8,869.3ZM1479.8,848.1L1468,848.1L1461.8,869.3L1473.2,876.9ZM1468,848.1L1479.8,848.1L1500.5,779L1496.6,770.9ZM1516.2,732.7L1516.2,722.8L1496.6,770.9L1500.5,779Z"/>
<path fill="#ff6d00" stroke="#ff6d00" d="M1450.2,1249.4L1467.5,1249.4L1468.6,1141.1L1452.1,1132ZM1468.6,1115.7L1452.1,1115.7L1452.1,1132L1468.6,1141.1ZM1452.1,1115.7L1468.6,1115.7L1470,1008.3L1454.2,999.2ZM1470,981.9L1454.2,981.9L1454.2,999.2L1470,1008.3ZM1454.2,981.9L1470,981.9L1482.9,885.6L1473.2,876.9ZM1489.6,848.1L1479.8,848.1L1473.2,876.9L1482.9,885.6ZM1479.8,848.1L1489.6,848.1L1504.2,788.4L1500.5,779ZM1516.2,744.5L1516.2,732.7L1500.5,779L1504.2,788.4Z"/>
<path fill="#ff5700" stroke="#ff5700" d="M1467.5,1249.4L1480.9,1249.4L1481.6,1151.8L1468.6,1141.1ZM1481.6,1115.7L1468.6,1115.7L1468.6,1141.1L1481.6,1151.8ZM1468.6,1115.7L1481.6,1115.7L1482.5,1019L1470,1008.3ZM1482.5,981.9L1470,981.9L1470,1008.3L1482.5,1019ZM1470,981.9L1482.5,981.9L1491.2,895.9L1482.9,885.6ZM1498.1,848.1L1489.6,848.1L1482.9,885.6L1491.2,895.9ZM1489.6,848.1L1498.1,848.1L1507.7,799.6L1504.2,788.4ZM1516.2,759.5L1516.2,744.5L1504.2,788.4L1507.7,799.6Z"/>
<path fill="#ff4100" stroke="#ff4100" d="M1480.9,1249.4L1491.8,1249.4L1492.3,1165L1481.6,1151.8ZM1492.3,1115.7L1481.6,1115.7L1481.6,1151.8L1492.3,1165ZM1481.6,1115.7L1492.3,1115.7L1492.8,1032.1L1482.5,1019ZM1492.8,981.9L1482.5,981.9L1482.5,1019L1492.8,1032.1ZM1482.5,981.9L1492.8,981.9L1498.5,908.4L1491.2,895.9ZM1505.5,848.1L1498.1,848.1L1491.2,895.9L1498.5,908.4ZM1498.1,848.1L1505.5,848.1L1511,813.4L1507.7,799.6ZM1516.2,779.6L1516.2,759.5L1507.7,799.6L1511,813.4Z"/>
<path fill="#ff2b00" stroke="#ff2b00" d="M1491.8,1249.4L1501.1,1249.4L1501.3,1182.2L1492.3,1165ZM1501.3,1115.7L1492.3,1115.7L1492.3,1165L1501.3,1182.2ZM1492.3,1115.7L1501.3,1115.7L1501.7,1049.2L1492.8,1032.1ZM1501.7,981.9L1492.8,981.9L1492.8,1032.1L1501.7,1049.2ZM1492.8,981.9L1501.7,981.9L1505,924.2L1498.5,908.4ZM1512.1,848.1L1505.5,848.1L1498.5,908.4L1505,924.2ZM1505.5,848.1L1512.1,848.1L1514.2,831.7L1511,813.4ZM1516.2,810.7L1516.2,779.6L1511,813.4L1514.2,831.7Z"/>
<path fill="#ff1600" stroke="#ff1600" d="M1501.1,1249.4L1509.1,1249.4L1509.2,1206.6L1501.3,1182.2ZM1509.2,1115.7L1501.3,1115.7L1501.3,1182.2L1509.2,1206.6ZM1501.3,1115.7L1509.2,1115.7L1509.4,1073.4L1501.7,1049.2ZM1509.4,981.9L1501.7,981.9L1501.7,1049.2L1509.4,1073.4ZM1501.7,981.9L1509.4,981.9L1510.8,946.2L1505,924.2ZM1516.2,862.8L1516.2,848.1L1512.1,848.1L1505,924.2L1510.8,946.2ZM1512.1,848.1L1516.2,848.1L1514.2,831.7ZM1516.2,848.1L1516.2,810.7L1514.2,831.7Z"/>
<path fill="#ff0000" stroke="#ff0000" d="M1509.1,1249.4L1516.2,1249.4L1509.2,1206.6ZM1516.2,1249.4L1516.2,1115.7L1509.2,1115.7L1509.2,1206.6ZM1509.2,1115.7L1516.2,1115.7L1509.4,1073.4ZM1516.2,1115.7L1516.2,981.9L1509.4,981.9L1509.4,1073.4ZM1509.4,981.9L1516.2,981.9L1510.8,946.2ZM1516.2,981.9L1516.2,862.8L1510.8,946.2Z"/>
<path fill="#0098ff" stroke="#0098ff" d="M974.2,849.6L960.5,848.1L960.5,864.2ZM982.6,848.1L960.5,848.1L974.2,849.6ZM960.5,848.1L982.6,848.1L1060.8,746.8L1049,738L960.5,793.8ZM1099.4,760.9L1099.4,752.6L1049,738L1060.8,746.8ZM1286.1,726.8L1278.4,725L1099.4,752.6L1099.4,760.9ZM1302.3,714.4L1294.5,714.4L1278.4,725L1286.1,726.8Z"/>
<path fill="#0041ff" stroke="#0041ff" d="M986,717.5L960.5,714.4L960.5,721.6ZM1099.4,733L1099.4,727.7L1007.2,714.4L960.5,714.4L986,717.5ZM1246.6,720.2L1230.8,718.7L1099.4,727.7L1099.4,733ZM1262.2,714.4L1245.9,714.4L1230.8,718.7L1246.6,720.2Z"/>
<path fill="#0057ff" stroke="#0057ff" d="M1014.9,723.6L986,717.5L960.5,721.6L960.5,737.4ZM1099.4,738.8L1099.4,733L986,717.5L1014.9,723.6ZM1259.2,721.8L1246.6,720.2L1099.4,733L1099.4,738.8ZM1275,714.4L1262.2,714.4L1246.6,720.2L1259.2,721.8Z"/>
<path fill="#006dff" stroke="#006dff" d="M1034.3,730.3L1014.9,723.6L960.5,737.4L960.5,759ZM1099.4,745.3L1099.4,738.8L1014.9,723.6L1034.3,730.3ZM1269.5,723.4L1259.2,721.8L1099.4,738.8L1099.4,745.3ZM1285.5,714.4L1275,714.4L1259.2,721.8L1269.5,723.4Z"/>
<path fill="#0082ff" stroke="#0082ff" d="M1049,738L1034.3,730.3L960.5,759L960.5,793.8ZM1099.4,752.6L1099.4,745.3L1034.3,730.3L1049,738ZM1278.4,725L1269.5,723.4L1099.4,745.3L1099.4,752.6ZM1294.5,714.4L1285.5,714.4L1269.5,723.4L1278.4,725Z"/>
<path fill="#0000ff" stroke="#0000ff" d="M1099.4,718.4L1099.4,714.4L1081.9,714.4ZM1175.3,715.7L1099.4,714.4L1099.4,718.4ZM1187.8,714.4L1099.4,714.4L1175.3,715.7Z"/>
<path fill="#0016ff" stroke="#0016ff" d="M1099.4,722.8L1099.4,718.4L1081.9,714.4L1055.4,714.4ZM1209.2,717.2L1175.3,715.7L1099.4,718.4L1099.4,722.8ZM1223.6,714.4L1187.8,714.4L1175.3,715.7L1209.2,717.2Z"/>
<path fill="#002bff" stroke="#002bff" d="M1099.4,727.7L1099.4,722.8L1055.4,714.4L1007.2,714.4ZM1230.8,718.7L1209.2,717.2L1099.4,722.8L1099.4,727.7ZM1245.9,714.4L1223.6,714.4L1209.2,717.2L1230.8,718.7Z"/>
</g>
<g stroke="#454545" stroke-width="1.25" fill="none" stroke-opacity="0.9">
<path d="M960.5,759L1034.3,730.3M1099.4,745.3L1034.3,730.3M1087.7,848.1L1093.2,808.6M1099.4,816.6L1093.2,808.6M1099.4,816.6L1309.8,734.1M1309.8,734.1L1326.2,714.4M1283.6,848.1L1333.7,747.3M1333.7,747.3L1350.3,714.4M1329.8,848.1L1350.8,764.4M1350.8,764.4L1367.4,714.4M1373.7,848.1L1375,831.3M1375,831.3L1377.3,797.7M1454.2,981.9L1473.2,876.9M1473.2,876.9L1479.8,848.1M1479.8,848.1L1500.5,779M1500.5,779L1516.2,732.7" stroke-dasharray="2.4 3"/>
<path d="M1099.4,745.3L1269.5,723.4M1269.5,723.4L1285.5,714.4M1344.5,981.9L1350.6,897.8M1350.6,897.8L1355.7,848.1" stroke-dasharray="7 6"/>
<path d="M1049.6,1249.4L1049.4,1139.5M1049.4,1139.5L1049.5,1115.7M1203.3,981.9L1278.6,858.8M1278.6,858.8L1283.6,848.1M1342.8,1249.4L1342.9,1156.5M1342.9,1156.5L1343.2,1115.7M1377.3,797.7L1471.6,741.9M1471.6,741.9L1494,714.4"/>
<path d="M1049.5,1115.7L1050.1,1006.2M1050.1,1006.2L1052.5,981.9" stroke-dasharray="0 5 50 18 50 200"/>
<path d="M1052.5,981.9L1059.5,879.4M1059.5,879.4L1087.7,848.1" stroke-dasharray="14 5"/>
<path d="M1178.1,1249.4L1178.8,1117.1M1178.8,1117.1L1179.1,1115.7" stroke-dasharray="18 20 65 15 40 200"/>
<path d="M1179.1,1115.7L1202.9,984.4M1202.9,984.4L1203.3,981.9M1308.2,981.9L1324.7,875.1M1324.7,875.1L1329.8,848.1" stroke-dasharray="3.5 3.5"/>
<path d="M1304.8,1249.4L1304.9,1133.5M1304.9,1133.5L1305.2,1115.7" stroke-dasharray="0 45 95 200"/>
<path d="M1305.2,1115.7L1307.8,1000.8M1307.8,1000.8L1308.2,981.9" stroke-dasharray="0 20 35 20 35 40"/>
<path d="M1343.2,1115.7L1344.1,1023.9M1344.1,1023.9L1344.5,981.9" stroke-dasharray="0 25 65 25 30 10"/>
<path d="M1355.7,848.1L1364.1,788.7M1364.1,788.7L1377.3,725.1M1377.3,725.1L1413.8,719.5M1413.8,719.5L1427.7,714.4" stroke-dasharray="6 5"/>
<path d="M1366.3,1115.7L1366.6,1062.9M1366.6,1062.9L1367,981.9" stroke-dasharray="130 10"/>
<path d="M1367,981.9L1368.6,935.7M1368.6,935.7L1373.7,848.1" stroke-dasharray="20 8"/>
<path d="M1450.2,1249.4L1452.1,1132M1452.1,1132L1452.1,1115.7" stroke-dasharray="75 60"/>
<path d="M1452.1,1115.7L1454.2,999.2M1454.2,999.2L1454.2,981.9" stroke-dasharray="0 25 25 20 25 20 20 20"/>
</g>
<rect x="960.5" y="714.4" width="555.7" height="535" fill="none" stroke="#000" stroke-width="2.4"/>
<path d="M960.5,1249.4v10M960.5,1249.4h-10M1057.6,1249.4v5M960.5,1155.9h-5M1099.4,1249.4v10M960.5,1115.7h-10M1196.5,1249.4v5M960.5,1022.2h-5M1238.3,1249.4v10M960.5,981.9h-10M1335.5,1249.4v5M960.5,888.4h-5M1377.3,1249.4v10M960.5,848.1h-10M1474.4,1249.4v5M960.5,754.7h-5M1516.2,1249.4v10M960.5,714.4h-10" stroke="#000" stroke-width="2.2" fill="none"/>
<text x="960.5" y="1289" font-size="22" text-anchor="middle" class="s">10<tspan dy="-9" font-size="15">15</tspan></text>
<text x="943.5" y="1258.3" font-size="22" text-anchor="end" class="s">10<tspan dy="-9" font-size="15">10</tspan></text>
<text x="1099.4" y="1289" font-size="22" text-anchor="middle" class="s">10<tspan dy="-9" font-size="15">16</tspan></text>
<text x="943.5" y="1124.6" font-size="22" text-anchor="end" class="s">10<tspan dy="-9" font-size="15">11</tspan></text>
<text x="1238.3" y="1289" font-size="22" text-anchor="middle" class="s">10<tspan dy="-9" font-size="15">17</tspan></text>
<text x="943.5" y="990.8" font-size="22" text-anchor="end" class="s">10<tspan dy="-9" font-size="15">12</tspan></text>
<text x="1377.3" y="1289" font-size="22" text-anchor="middle" class="s">10<tspan dy="-9" font-size="15">18</tspan></text>
<text x="943.5" y="857" font-size="22" text-anchor="end" class="s">10<tspan dy="-9" font-size="15">13</tspan></text>
<text x="1516.2" y="1289" font-size="22" text-anchor="middle" class="s">10<tspan dy="-9" font-size="15">19</tspan></text>
<text x="943.5" y="723.3" font-size="22" text-anchor="end" class="s">10<tspan dy="-9" font-size="15">14</tspan></text>
<text x="1022" y="1336" font-size="28" class="b" textLength="434" lengthAdjust="spacingAndGlyphs">Acceptor concentration, N<tspan dy="6" font-size="17" class="n">A</tspan><tspan dy="-6">(cm</tspan><tspan dy="-13" font-size="16" class="n">-3</tspan><tspan dy="13">)</tspan></text>
<text transform="translate(888,1125) rotate(-90)" font-size="28" class="b" textLength="282" lengthAdjust="spacingAndGlyphs">Interface Defect(cm<tspan dy="-11" font-size="16" class="n">-2</tspan><tspan dy="11">)</tspan></text>
<text x="1001" y="749.5" font-size="26" class="b">(d)</text>
<rect x="1540.6" y="717.3" width="46.1" height="10.7" fill="#808080"/>
<rect x="1540.6" y="728.00" width="46.1" height="514.30" fill="#ff0000"/>
<rect x="1540.6" y="738.71" width="46.1" height="503.59" fill="#ff1600"/>
<rect x="1540.6" y="749.43" width="46.1" height="492.87" fill="#ff2b00"/>
<rect x="1540.6" y="760.14" width="46.1" height="482.16" fill="#ff4100"/>
<rect x="1540.6" y="770.86" width="46.1" height="471.44" fill="#ff5700"/>
<rect x="1540.6" y="781.57" width="46.1" height="460.73" fill="#ff6d00"/>
<rect x="1540.6" y="792.29" width="46.1" height="450.01" fill="#ff8200"/>
<rect x="1540.6" y="803.00" width="46.1" height="439.30" fill="#ff9800"/>
<rect x="1540.6" y="813.72" width="46.1" height="428.58" fill="#ffae00"/>
<rect x="1540.6" y="824.43" width="46.1" height="417.87" fill="#ffc300"/>
<rect x="1540.6" y="835.15" width="46.1" height="407.15" fill="#ffd900"/>
<rect x="1540.6" y="845.86" width="46.1" height="396.44" fill="#ffef00"/>
<rect x="1540.6" y="856.58" width="46.1" height="385.72" fill="#faff00"/>
<rect x="1540.6" y="867.29" width="46.1" height="375.01" fill="#e4ff00"/>
<rect x="1540.6" y="878.00" width="46.1" height="364.30" fill="#ceff00"/>
<rect x="1540.6" y="888.72" width="46.1" height="353.58" fill="#b8ff00"/>
<rect x="1540.6" y="899.43" width="46.1" height="342.87" fill="#a3ff00"/>
<rect x="1540.6" y="910.15" width="46.1" height="332.15" fill="#8dff00"/>
<rect x="1540.6" y="920.86" width="46.1" height="321.44" fill="#77ff00"/>
<rect x="1540.6" y="931.58" width="46.1" height="310.72" fill="#62ff00"/>
<rect x="1540.6" y="942.29" width="46.1" height="300.01" fill="#4cff00"/>
<rect x="1540.6" y="953.01" width="46.1" height="289.29" fill="#36ff00"/>
<rect x="1540.6" y="963.72" width="46.1" height="278.58" fill="#21ff00"/>
<rect x="1540.6" y="974.44" width="46.1" height="267.86" fill="#0bff00"/>
<rect x="1540.6" y="985.15" width="46.1" height="257.15" fill="#00ff0b"/>
<rect x="1540.6" y="995.86" width="46.1" height="246.44" fill="#00ff21"/>
<rect x="1540.6" y="1006.58" width="46.1" height="235.72" fill="#00ff36"/>
<rect x="1540.6" y="1017.29" width="46.1" height="225.01" fill="#00ff4c"/>
<rect x="1540.6" y="1028.01" width="46.1" height="214.29" fill="#00ff62"/>
<rect x="1540.6" y="1038.72" width="46.1" height="203.58" fill="#00ff77"/>
<rect x="1540.6" y="1049.44" width="46.1" height="192.86" fill="#00ff8d"/>
<rect x="1540.6" y="1060.15" width="46.1" height="182.15" fill="#00ffa3"/>
<rect x="1540.6" y="1070.87" width="46.1" height="171.43" fill="#00ffb8"/>
<rect x="1540.6" y="1081.58" width="46.1" height="160.72" fill="#00ffce"/>
<rect x="1540.6" y="1092.30" width="46.1" height="150.00" fill="#00ffe4"/>
<rect x="1540.6" y="1103.01" width="46.1" height="139.29" fill="#00fffa"/>
<rect x="1540.6" y="1113.72" width="46.1" height="128.57" fill="#00efff"/>
<rect x="1540.6" y="1124.44" width="46.1" height="117.86" fill="#00d9ff"/>
<rect x="1540.6" y="1135.15" width="46.1" height="107.15" fill="#00c3ff"/>
<rect x="1540.6" y="1145.87" width="46.1" height="96.43" fill="#00aeff"/>
<rect x="1540.6" y="1156.58" width="46.1" height="85.72" fill="#0098ff"/>
<rect x="1540.6" y="1167.30" width="46.1" height="75.00" fill="#0082ff"/>
<rect x="1540.6" y="1178.01" width="46.1" height="64.29" fill="#006dff"/>
<rect x="1540.6" y="1188.73" width="46.1" height="53.57" fill="#0057ff"/>
<rect x="1540.6" y="1199.44" width="46.1" height="42.86" fill="#0041ff"/>
<rect x="1540.6" y="1210.16" width="46.1" height="32.14" fill="#002bff"/>
<rect x="1540.6" y="1220.87" width="46.1" height="21.43" fill="#0016ff"/>
<rect x="1540.6" y="1231.59" width="46.1" height="10.71" fill="#0000ff"/>
<rect x="1540.6" y="1242.3" width="46.1" height="11" fill="#000000"/>
<rect x="1540.6" y="717.3" width="46.1" height="536" fill="none" stroke="#2a2a2a" stroke-width="1.4"/>
<path d="M1586.7,1242.30h10M1586.7,1178.01h10M1586.7,1113.72h10M1586.7,1049.44h10M1586.7,985.15h10M1586.7,920.86h10M1586.7,856.58h10M1586.7,792.29h10M1586.7,728.00h10" stroke="#222" stroke-width="1.6" fill="none"/>
<text x="1604" y="1248.0" font-size="17" class="b">24.62</text>
<text x="1604" y="1183.7" font-size="17" class="b">25.59</text>
<text x="1604" y="1119.4" font-size="17" class="b">26.57</text>
<text x="1604" y="1055.1" font-size="17" class="b">27.54</text>
<text x="1604" y="990.9" font-size="17" class="b">28.51</text>
<text x="1604" y="926.6" font-size="17" class="b">29.48</text>
<text x="1604" y="862.3" font-size="17" class="b">30.45</text>
<text x="1604" y="798.0" font-size="17" class="b">31.43</text>
<text x="1604" y="733.7" font-size="17" class="b">32.40</text>
<text x="1515" y="699" font-size="27" class="b" textLength="98" lengthAdjust="spacingAndGlyphs">PCE(%)</text>
</g>
</svg></body></html>
